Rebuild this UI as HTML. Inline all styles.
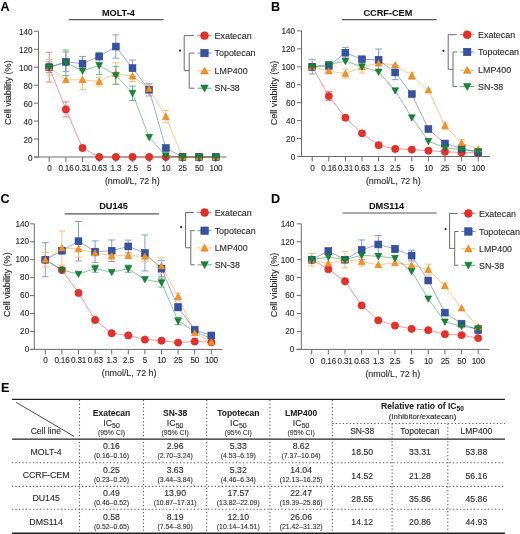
<!DOCTYPE html>
<html><head><meta charset="utf-8"><style>
html,body{margin:0;padding:0;background:#fff;}
body{width:520px;height:534px;overflow:hidden;}
svg{display:block;font-family:"Liberation Sans", sans-serif;will-change:transform;}
</style></head><body>
<svg width="520" height="534" viewBox="0 0 520 534">
<rect width="520" height="534" fill="#fff"/>
<line x1="38.50" y1="31.28" x2="38.50" y2="157.00" stroke="#6a6a6a" stroke-width="1" />
<line x1="34.00" y1="157.00" x2="38.50" y2="157.00" stroke="#6a6a6a" stroke-width="1" />
<text x="32.60" y="160.50" font-size="8.2" text-anchor="end" font-weight="normal" fill="#2a2a2a" stroke="#2a2a2a" stroke-width="0.12" >0</text>
<line x1="34.00" y1="139.04" x2="38.50" y2="139.04" stroke="#6a6a6a" stroke-width="1" />
<text x="32.60" y="142.54" font-size="8.2" text-anchor="end" font-weight="normal" fill="#2a2a2a" stroke="#2a2a2a" stroke-width="0.12" >20</text>
<line x1="34.00" y1="121.08" x2="38.50" y2="121.08" stroke="#6a6a6a" stroke-width="1" />
<text x="32.60" y="124.58" font-size="8.2" text-anchor="end" font-weight="normal" fill="#2a2a2a" stroke="#2a2a2a" stroke-width="0.12" >40</text>
<line x1="34.00" y1="103.12" x2="38.50" y2="103.12" stroke="#6a6a6a" stroke-width="1" />
<text x="32.60" y="106.62" font-size="8.2" text-anchor="end" font-weight="normal" fill="#2a2a2a" stroke="#2a2a2a" stroke-width="0.12" >60</text>
<line x1="34.00" y1="85.16" x2="38.50" y2="85.16" stroke="#6a6a6a" stroke-width="1" />
<text x="32.60" y="88.66" font-size="8.2" text-anchor="end" font-weight="normal" fill="#2a2a2a" stroke="#2a2a2a" stroke-width="0.12" >80</text>
<line x1="34.00" y1="67.20" x2="38.50" y2="67.20" stroke="#6a6a6a" stroke-width="1" />
<text x="32.60" y="70.70" font-size="8.2" text-anchor="end" font-weight="normal" fill="#2a2a2a" stroke="#2a2a2a" stroke-width="0.12" >100</text>
<line x1="34.00" y1="49.24" x2="38.50" y2="49.24" stroke="#6a6a6a" stroke-width="1" />
<text x="32.60" y="52.74" font-size="8.2" text-anchor="end" font-weight="normal" fill="#2a2a2a" stroke="#2a2a2a" stroke-width="0.12" >120</text>
<line x1="34.00" y1="31.28" x2="38.50" y2="31.28" stroke="#6a6a6a" stroke-width="1" />
<text x="32.60" y="34.78" font-size="8.2" text-anchor="end" font-weight="normal" fill="#2a2a2a" stroke="#2a2a2a" stroke-width="0.12" >140</text>
<line x1="34.30" y1="157.00" x2="226.50" y2="157.00" stroke="#6a6a6a" stroke-width="1" />
<line x1="49.20" y1="157.00" x2="49.20" y2="162.00" stroke="#6a6a6a" stroke-width="1" />
<text x="49.30" y="171.00" font-size="8.2" text-anchor="middle" font-weight="normal" fill="#2a2a2a" stroke="#2a2a2a" stroke-width="0.12" letter-spacing="-0.22">0</text>
<line x1="65.86" y1="157.00" x2="65.86" y2="162.00" stroke="#6a6a6a" stroke-width="1" />
<text x="65.96" y="171.00" font-size="8.2" text-anchor="middle" font-weight="normal" fill="#2a2a2a" stroke="#2a2a2a" stroke-width="0.12" letter-spacing="-0.22">0.16</text>
<line x1="82.52" y1="157.00" x2="82.52" y2="162.00" stroke="#6a6a6a" stroke-width="1" />
<text x="82.62" y="171.00" font-size="8.2" text-anchor="middle" font-weight="normal" fill="#2a2a2a" stroke="#2a2a2a" stroke-width="0.12" letter-spacing="-0.22">0.31</text>
<line x1="99.18" y1="157.00" x2="99.18" y2="162.00" stroke="#6a6a6a" stroke-width="1" />
<text x="99.28" y="171.00" font-size="8.2" text-anchor="middle" font-weight="normal" fill="#2a2a2a" stroke="#2a2a2a" stroke-width="0.12" letter-spacing="-0.22">0.63</text>
<line x1="115.84" y1="157.00" x2="115.84" y2="162.00" stroke="#6a6a6a" stroke-width="1" />
<text x="115.94" y="171.00" font-size="8.2" text-anchor="middle" font-weight="normal" fill="#2a2a2a" stroke="#2a2a2a" stroke-width="0.12" letter-spacing="-0.22">1.3</text>
<line x1="132.50" y1="157.00" x2="132.50" y2="162.00" stroke="#6a6a6a" stroke-width="1" />
<text x="132.60" y="171.00" font-size="8.2" text-anchor="middle" font-weight="normal" fill="#2a2a2a" stroke="#2a2a2a" stroke-width="0.12" letter-spacing="-0.22">2.5</text>
<line x1="149.16" y1="157.00" x2="149.16" y2="162.00" stroke="#6a6a6a" stroke-width="1" />
<text x="149.26" y="171.00" font-size="8.2" text-anchor="middle" font-weight="normal" fill="#2a2a2a" stroke="#2a2a2a" stroke-width="0.12" letter-spacing="-0.22">5</text>
<line x1="165.82" y1="157.00" x2="165.82" y2="162.00" stroke="#6a6a6a" stroke-width="1" />
<text x="165.92" y="171.00" font-size="8.2" text-anchor="middle" font-weight="normal" fill="#2a2a2a" stroke="#2a2a2a" stroke-width="0.12" letter-spacing="-0.22">10</text>
<line x1="182.48" y1="157.00" x2="182.48" y2="162.00" stroke="#6a6a6a" stroke-width="1" />
<text x="182.58" y="171.00" font-size="8.2" text-anchor="middle" font-weight="normal" fill="#2a2a2a" stroke="#2a2a2a" stroke-width="0.12" letter-spacing="-0.22">25</text>
<line x1="199.14" y1="157.00" x2="199.14" y2="162.00" stroke="#6a6a6a" stroke-width="1" />
<text x="199.24" y="171.00" font-size="8.2" text-anchor="middle" font-weight="normal" fill="#2a2a2a" stroke="#2a2a2a" stroke-width="0.12" letter-spacing="-0.22">50</text>
<line x1="215.80" y1="157.00" x2="215.80" y2="162.00" stroke="#6a6a6a" stroke-width="1" />
<text x="215.90" y="171.00" font-size="8.2" text-anchor="middle" font-weight="normal" fill="#2a2a2a" stroke="#2a2a2a" stroke-width="0.12" letter-spacing="-0.22">100</text>
<text x="132.30" y="184.00" font-size="8.9" text-anchor="middle" font-weight="normal" fill="#2a2a2a" stroke="#2a2a2a" stroke-width="0.12" >(nmol/L, 72 h)</text>
<text x="0" y="0" font-size="9.1" text-anchor="middle" fill="#2a2a2a" stroke="#2a2a2a" stroke-width="0.12" transform="translate(11.20,92.60) rotate(-90)">Cell viability (%)</text>
<text x="118.40" y="15.50" font-size="9.2" text-anchor="middle" font-weight="bold" fill="#111" stroke="#111" stroke-width="0.06" >MOLT-4</text>
<line x1="68.70" y1="19.60" x2="163.50" y2="19.60" stroke="#555" stroke-width="1.1" />
<text x="0.60" y="11.10" font-size="12.6" text-anchor="start" font-weight="bold" fill="#000" stroke="#000" stroke-width="0.06" >A</text>
<polyline points="49.20,67.20 65.86,109.41 82.52,148.02 99.18,157.00 115.84,157.00 132.50,157.00 149.16,157.00 165.82,157.00 182.48,157.00 199.14,157.00 215.80,157.00" fill="none" stroke="#e8302a" stroke-width="0.8" opacity="0.62"/>
<polyline points="49.20,67.20 65.86,61.81 82.52,63.61 99.18,56.42 115.84,46.55 132.50,68.10 149.16,89.65 165.82,148.02 182.48,157.00 199.14,157.00 215.80,157.00" fill="none" stroke="#3652a3" stroke-width="0.8" opacity="0.62"/>
<polyline points="49.20,67.20 65.86,79.77 82.52,79.77 99.18,81.57 115.84,73.49 132.50,76.18 149.16,88.75 165.82,116.59 182.48,157.00 199.14,157.00 215.80,157.00" fill="none" stroke="#f39325" stroke-width="0.8" opacity="0.62"/>
<polyline points="49.20,67.20 65.86,62.71 82.52,70.79 99.18,65.40 115.84,75.28 132.50,93.24 149.16,137.24 165.82,155.65 182.48,157.00 199.14,157.00 215.80,157.00" fill="none" stroke="#168439" stroke-width="0.8" opacity="0.62"/>
<line x1="49.20" y1="52.29" x2="49.20" y2="82.11" stroke="#ec7a6e" stroke-width="0.9" />
<line x1="45.80" y1="52.29" x2="52.60" y2="52.29" stroke="#ec7a6e" stroke-width="0.9" />
<line x1="45.80" y1="82.11" x2="52.60" y2="82.11" stroke="#ec7a6e" stroke-width="0.9" />
<line x1="65.86" y1="101.86" x2="65.86" y2="116.95" stroke="#ec7a6e" stroke-width="0.9" />
<line x1="62.46" y1="101.86" x2="69.26" y2="101.86" stroke="#ec7a6e" stroke-width="0.9" />
<line x1="62.46" y1="116.95" x2="69.26" y2="116.95" stroke="#ec7a6e" stroke-width="0.9" />
<line x1="49.20" y1="61.81" x2="49.20" y2="72.59" stroke="#7d8fc8" stroke-width="0.9" />
<line x1="45.80" y1="61.81" x2="52.60" y2="61.81" stroke="#7d8fc8" stroke-width="0.9" />
<line x1="45.80" y1="72.59" x2="52.60" y2="72.59" stroke="#7d8fc8" stroke-width="0.9" />
<line x1="65.86" y1="52.02" x2="65.86" y2="71.60" stroke="#7d8fc8" stroke-width="0.9" />
<line x1="62.46" y1="52.02" x2="69.26" y2="52.02" stroke="#7d8fc8" stroke-width="0.9" />
<line x1="62.46" y1="71.60" x2="69.26" y2="71.60" stroke="#7d8fc8" stroke-width="0.9" />
<line x1="82.52" y1="56.42" x2="82.52" y2="70.79" stroke="#7d8fc8" stroke-width="0.9" />
<line x1="79.12" y1="56.42" x2="85.92" y2="56.42" stroke="#7d8fc8" stroke-width="0.9" />
<line x1="79.12" y1="70.79" x2="85.92" y2="70.79" stroke="#7d8fc8" stroke-width="0.9" />
<line x1="99.18" y1="52.83" x2="99.18" y2="60.02" stroke="#7d8fc8" stroke-width="0.9" />
<line x1="95.78" y1="52.83" x2="102.58" y2="52.83" stroke="#7d8fc8" stroke-width="0.9" />
<line x1="95.78" y1="60.02" x2="102.58" y2="60.02" stroke="#7d8fc8" stroke-width="0.9" />
<line x1="115.84" y1="34.87" x2="115.84" y2="58.22" stroke="#7d8fc8" stroke-width="0.9" />
<line x1="112.44" y1="34.87" x2="119.24" y2="34.87" stroke="#7d8fc8" stroke-width="0.9" />
<line x1="112.44" y1="58.22" x2="119.24" y2="58.22" stroke="#7d8fc8" stroke-width="0.9" />
<line x1="132.50" y1="60.02" x2="132.50" y2="76.18" stroke="#7d8fc8" stroke-width="0.9" />
<line x1="129.10" y1="60.02" x2="135.90" y2="60.02" stroke="#7d8fc8" stroke-width="0.9" />
<line x1="129.10" y1="76.18" x2="135.90" y2="76.18" stroke="#7d8fc8" stroke-width="0.9" />
<line x1="149.16" y1="83.36" x2="149.16" y2="95.94" stroke="#7d8fc8" stroke-width="0.9" />
<line x1="145.76" y1="83.36" x2="152.56" y2="83.36" stroke="#7d8fc8" stroke-width="0.9" />
<line x1="145.76" y1="95.94" x2="152.56" y2="95.94" stroke="#7d8fc8" stroke-width="0.9" />
<line x1="49.20" y1="59.48" x2="49.20" y2="74.92" stroke="#f5b86e" stroke-width="0.9" />
<line x1="45.80" y1="59.48" x2="52.60" y2="59.48" stroke="#f5b86e" stroke-width="0.9" />
<line x1="45.80" y1="74.92" x2="52.60" y2="74.92" stroke="#f5b86e" stroke-width="0.9" />
<line x1="82.52" y1="69.89" x2="82.52" y2="89.65" stroke="#f5b86e" stroke-width="0.9" />
<line x1="79.12" y1="69.89" x2="85.92" y2="69.89" stroke="#f5b86e" stroke-width="0.9" />
<line x1="79.12" y1="89.65" x2="85.92" y2="89.65" stroke="#f5b86e" stroke-width="0.9" />
<line x1="99.18" y1="77.08" x2="99.18" y2="86.06" stroke="#f5b86e" stroke-width="0.9" />
<line x1="95.78" y1="77.08" x2="102.58" y2="77.08" stroke="#f5b86e" stroke-width="0.9" />
<line x1="95.78" y1="86.06" x2="102.58" y2="86.06" stroke="#f5b86e" stroke-width="0.9" />
<line x1="115.84" y1="62.71" x2="115.84" y2="84.26" stroke="#f5b86e" stroke-width="0.9" />
<line x1="112.44" y1="62.71" x2="119.24" y2="62.71" stroke="#f5b86e" stroke-width="0.9" />
<line x1="112.44" y1="84.26" x2="119.24" y2="84.26" stroke="#f5b86e" stroke-width="0.9" />
<line x1="132.50" y1="70.79" x2="132.50" y2="81.57" stroke="#f5b86e" stroke-width="0.9" />
<line x1="129.10" y1="70.79" x2="135.90" y2="70.79" stroke="#f5b86e" stroke-width="0.9" />
<line x1="129.10" y1="81.57" x2="135.90" y2="81.57" stroke="#f5b86e" stroke-width="0.9" />
<line x1="149.16" y1="84.26" x2="149.16" y2="93.24" stroke="#f5b86e" stroke-width="0.9" />
<line x1="145.76" y1="84.26" x2="152.56" y2="84.26" stroke="#f5b86e" stroke-width="0.9" />
<line x1="145.76" y1="93.24" x2="152.56" y2="93.24" stroke="#f5b86e" stroke-width="0.9" />
<line x1="165.82" y1="110.30" x2="165.82" y2="122.88" stroke="#f5b86e" stroke-width="0.9" />
<line x1="162.42" y1="110.30" x2="169.22" y2="110.30" stroke="#f5b86e" stroke-width="0.9" />
<line x1="162.42" y1="122.88" x2="169.22" y2="122.88" stroke="#f5b86e" stroke-width="0.9" />
<line x1="65.86" y1="49.96" x2="65.86" y2="75.46" stroke="#5fae7a" stroke-width="0.9" />
<line x1="62.46" y1="49.96" x2="69.26" y2="49.96" stroke="#5fae7a" stroke-width="0.9" />
<line x1="62.46" y1="75.46" x2="69.26" y2="75.46" stroke="#5fae7a" stroke-width="0.9" />
<line x1="99.18" y1="56.42" x2="99.18" y2="74.38" stroke="#5fae7a" stroke-width="0.9" />
<line x1="95.78" y1="56.42" x2="102.58" y2="56.42" stroke="#5fae7a" stroke-width="0.9" />
<line x1="95.78" y1="74.38" x2="102.58" y2="74.38" stroke="#5fae7a" stroke-width="0.9" />
<line x1="115.84" y1="66.30" x2="115.84" y2="84.26" stroke="#5fae7a" stroke-width="0.9" />
<line x1="112.44" y1="66.30" x2="119.24" y2="66.30" stroke="#5fae7a" stroke-width="0.9" />
<line x1="112.44" y1="84.26" x2="119.24" y2="84.26" stroke="#5fae7a" stroke-width="0.9" />
<line x1="132.50" y1="86.06" x2="132.50" y2="100.43" stroke="#5fae7a" stroke-width="0.9" />
<line x1="129.10" y1="86.06" x2="135.90" y2="86.06" stroke="#5fae7a" stroke-width="0.9" />
<line x1="129.10" y1="100.43" x2="135.90" y2="100.43" stroke="#5fae7a" stroke-width="0.9" />
<circle cx="49.20" cy="67.20" r="3.65" fill="#e8302a" stroke="#c42420" stroke-width="0.55"/>
<circle cx="65.86" cy="109.41" r="3.65" fill="#e8302a" stroke="#c42420" stroke-width="0.55"/>
<circle cx="82.52" cy="148.02" r="3.65" fill="#e8302a" stroke="#c42420" stroke-width="0.55"/>
<circle cx="99.18" cy="157.00" r="3.65" fill="#e8302a" stroke="#c42420" stroke-width="0.55"/>
<circle cx="115.84" cy="157.00" r="3.65" fill="#e8302a" stroke="#c42420" stroke-width="0.55"/>
<circle cx="132.50" cy="157.00" r="3.65" fill="#e8302a" stroke="#c42420" stroke-width="0.55"/>
<circle cx="149.16" cy="157.00" r="3.65" fill="#e8302a" stroke="#c42420" stroke-width="0.55"/>
<circle cx="165.82" cy="157.00" r="3.65" fill="#e8302a" stroke="#c42420" stroke-width="0.55"/>
<circle cx="182.48" cy="157.00" r="3.65" fill="#e8302a" stroke="#c42420" stroke-width="0.55"/>
<circle cx="199.14" cy="157.00" r="3.65" fill="#e8302a" stroke="#c42420" stroke-width="0.55"/>
<circle cx="215.80" cy="157.00" r="3.65" fill="#e8302a" stroke="#c42420" stroke-width="0.55"/>
<rect x="45.75" y="63.75" width="6.90" height="6.90" fill="#3652a3" stroke="#2a4288" stroke-width="0.55"/>
<rect x="62.41" y="58.36" width="6.90" height="6.90" fill="#3652a3" stroke="#2a4288" stroke-width="0.55"/>
<rect x="79.07" y="60.16" width="6.90" height="6.90" fill="#3652a3" stroke="#2a4288" stroke-width="0.55"/>
<rect x="95.73" y="52.97" width="6.90" height="6.90" fill="#3652a3" stroke="#2a4288" stroke-width="0.55"/>
<rect x="112.39" y="43.10" width="6.90" height="6.90" fill="#3652a3" stroke="#2a4288" stroke-width="0.55"/>
<rect x="129.05" y="64.65" width="6.90" height="6.90" fill="#3652a3" stroke="#2a4288" stroke-width="0.55"/>
<rect x="145.71" y="86.20" width="6.90" height="6.90" fill="#3652a3" stroke="#2a4288" stroke-width="0.55"/>
<rect x="162.37" y="144.57" width="6.90" height="6.90" fill="#3652a3" stroke="#2a4288" stroke-width="0.55"/>
<rect x="179.03" y="153.55" width="6.90" height="6.90" fill="#3652a3" stroke="#2a4288" stroke-width="0.55"/>
<rect x="195.69" y="153.55" width="6.90" height="6.90" fill="#3652a3" stroke="#2a4288" stroke-width="0.55"/>
<rect x="212.35" y="153.55" width="6.90" height="6.90" fill="#3652a3" stroke="#2a4288" stroke-width="0.55"/>
<polygon points="45.75,70.10 52.65,70.10 49.20,63.70" fill="#f39325" stroke="#d97a14" stroke-width="0.55"/>
<polygon points="62.41,82.67 69.31,82.67 65.86,76.27" fill="#f39325" stroke="#d97a14" stroke-width="0.55"/>
<polygon points="79.07,82.67 85.97,82.67 82.52,76.27" fill="#f39325" stroke="#d97a14" stroke-width="0.55"/>
<polygon points="95.73,84.47 102.63,84.47 99.18,78.07" fill="#f39325" stroke="#d97a14" stroke-width="0.55"/>
<polygon points="112.39,76.39 119.29,76.39 115.84,69.99" fill="#f39325" stroke="#d97a14" stroke-width="0.55"/>
<polygon points="129.05,79.08 135.95,79.08 132.50,72.68" fill="#f39325" stroke="#d97a14" stroke-width="0.55"/>
<polygon points="145.71,91.65 152.61,91.65 149.16,85.25" fill="#f39325" stroke="#d97a14" stroke-width="0.55"/>
<polygon points="162.37,119.49 169.27,119.49 165.82,113.09" fill="#f39325" stroke="#d97a14" stroke-width="0.55"/>
<polygon points="179.03,159.90 185.93,159.90 182.48,153.50" fill="#f39325" stroke="#d97a14" stroke-width="0.55"/>
<polygon points="195.69,159.90 202.59,159.90 199.14,153.50" fill="#f39325" stroke="#d97a14" stroke-width="0.55"/>
<polygon points="212.35,159.90 219.25,159.90 215.80,153.50" fill="#f39325" stroke="#d97a14" stroke-width="0.55"/>
<polygon points="45.75,64.30 52.65,64.30 49.20,70.70" fill="#168439" stroke="#0f6a2c" stroke-width="0.55"/>
<polygon points="62.41,59.81 69.31,59.81 65.86,66.21" fill="#168439" stroke="#0f6a2c" stroke-width="0.55"/>
<polygon points="79.07,67.89 85.97,67.89 82.52,74.29" fill="#168439" stroke="#0f6a2c" stroke-width="0.55"/>
<polygon points="95.73,62.50 102.63,62.50 99.18,68.90" fill="#168439" stroke="#0f6a2c" stroke-width="0.55"/>
<polygon points="112.39,72.38 119.29,72.38 115.84,78.78" fill="#168439" stroke="#0f6a2c" stroke-width="0.55"/>
<polygon points="129.05,90.34 135.95,90.34 132.50,96.74" fill="#168439" stroke="#0f6a2c" stroke-width="0.55"/>
<polygon points="145.71,134.34 152.61,134.34 149.16,140.74" fill="#168439" stroke="#0f6a2c" stroke-width="0.55"/>
<polygon points="162.37,152.75 169.27,152.75 165.82,159.15" fill="#168439" stroke="#0f6a2c" stroke-width="0.55"/>
<polygon points="179.03,154.10 185.93,154.10 182.48,160.50" fill="#168439" stroke="#0f6a2c" stroke-width="0.55"/>
<polygon points="195.69,154.10 202.59,154.10 199.14,160.50" fill="#168439" stroke="#0f6a2c" stroke-width="0.55"/>
<polygon points="212.35,154.10 219.25,154.10 215.80,160.50" fill="#168439" stroke="#0f6a2c" stroke-width="0.55"/>
<line x1="197.30" y1="35.60" x2="211.50" y2="35.60" stroke="#ec7a6e" stroke-width="1" />
<circle cx="204.50" cy="35.60" r="3.94" fill="#e8302a" stroke="#c42420" stroke-width="0.55"/>
<text x="214.60" y="38.80" font-size="8.9" text-anchor="start" font-weight="normal" fill="#2a2a2a" stroke="#2a2a2a" stroke-width="0.12" >Exatecan</text>
<line x1="197.30" y1="53.10" x2="211.50" y2="53.10" stroke="#7d8fc8" stroke-width="1" />
<rect x="200.77" y="49.37" width="7.45" height="7.45" fill="#3652a3" stroke="#2a4288" stroke-width="0.55"/>
<text x="214.60" y="56.30" font-size="8.9" text-anchor="start" font-weight="normal" fill="#2a2a2a" stroke="#2a2a2a" stroke-width="0.12" >Topotecan</text>
<line x1="197.30" y1="70.80" x2="211.50" y2="70.80" stroke="#f5b86e" stroke-width="1" />
<polygon points="200.77,73.93 208.23,73.93 204.50,67.02" fill="#f39325" stroke="#d97a14" stroke-width="0.55"/>
<text x="214.60" y="74.00" font-size="8.9" text-anchor="start" font-weight="normal" fill="#2a2a2a" stroke="#2a2a2a" stroke-width="0.12" >LMP400</text>
<line x1="197.30" y1="88.20" x2="211.50" y2="88.20" stroke="#5fae7a" stroke-width="1" />
<polygon points="200.77,85.07 208.23,85.07 204.50,91.98" fill="#168439" stroke="#0f6a2c" stroke-width="0.55"/>
<text x="214.60" y="91.40" font-size="8.9" text-anchor="start" font-weight="normal" fill="#2a2a2a" stroke="#2a2a2a" stroke-width="0.12" >SN-38</text>
<polyline points="194.00,35.60 184.20,35.60 184.20,70.65 189.20,70.65" fill="none" stroke="#6a6a6a" stroke-width="1"/>
<polyline points="194.50,53.10 189.20,53.10 189.20,88.20 194.50,88.20" fill="none" stroke="#6a6a6a" stroke-width="1"/>
<circle cx="180.00" cy="50.60" r="1.1" fill="#222"/>
<line x1="301.50" y1="30.92" x2="301.50" y2="156.50" stroke="#6a6a6a" stroke-width="1" />
<line x1="297.00" y1="156.50" x2="301.50" y2="156.50" stroke="#6a6a6a" stroke-width="1" />
<text x="295.20" y="159.75" font-size="8.2" text-anchor="end" font-weight="normal" fill="#2a2a2a" stroke="#2a2a2a" stroke-width="0.12" >0</text>
<line x1="297.00" y1="138.56" x2="301.50" y2="138.56" stroke="#6a6a6a" stroke-width="1" />
<text x="295.20" y="141.81" font-size="8.2" text-anchor="end" font-weight="normal" fill="#2a2a2a" stroke="#2a2a2a" stroke-width="0.12" >20</text>
<line x1="297.00" y1="120.62" x2="301.50" y2="120.62" stroke="#6a6a6a" stroke-width="1" />
<text x="295.20" y="123.87" font-size="8.2" text-anchor="end" font-weight="normal" fill="#2a2a2a" stroke="#2a2a2a" stroke-width="0.12" >40</text>
<line x1="297.00" y1="102.68" x2="301.50" y2="102.68" stroke="#6a6a6a" stroke-width="1" />
<text x="295.20" y="105.93" font-size="8.2" text-anchor="end" font-weight="normal" fill="#2a2a2a" stroke="#2a2a2a" stroke-width="0.12" >60</text>
<line x1="297.00" y1="84.74" x2="301.50" y2="84.74" stroke="#6a6a6a" stroke-width="1" />
<text x="295.20" y="87.99" font-size="8.2" text-anchor="end" font-weight="normal" fill="#2a2a2a" stroke="#2a2a2a" stroke-width="0.12" >80</text>
<line x1="297.00" y1="66.80" x2="301.50" y2="66.80" stroke="#6a6a6a" stroke-width="1" />
<text x="295.20" y="70.05" font-size="8.2" text-anchor="end" font-weight="normal" fill="#2a2a2a" stroke="#2a2a2a" stroke-width="0.12" >100</text>
<line x1="297.00" y1="48.86" x2="301.50" y2="48.86" stroke="#6a6a6a" stroke-width="1" />
<text x="295.20" y="52.11" font-size="8.2" text-anchor="end" font-weight="normal" fill="#2a2a2a" stroke="#2a2a2a" stroke-width="0.12" >120</text>
<line x1="297.00" y1="30.92" x2="301.50" y2="30.92" stroke="#6a6a6a" stroke-width="1" />
<text x="295.20" y="34.17" font-size="8.2" text-anchor="end" font-weight="normal" fill="#2a2a2a" stroke="#2a2a2a" stroke-width="0.12" >140</text>
<line x1="297.00" y1="156.50" x2="490.00" y2="156.50" stroke="#6a6a6a" stroke-width="1" />
<line x1="312.20" y1="156.50" x2="312.20" y2="161.50" stroke="#6a6a6a" stroke-width="1" />
<text x="312.30" y="170.50" font-size="8.2" text-anchor="middle" font-weight="normal" fill="#2a2a2a" stroke="#2a2a2a" stroke-width="0.12" letter-spacing="-0.22">0</text>
<line x1="328.80" y1="156.50" x2="328.80" y2="161.50" stroke="#6a6a6a" stroke-width="1" />
<text x="328.90" y="170.50" font-size="8.2" text-anchor="middle" font-weight="normal" fill="#2a2a2a" stroke="#2a2a2a" stroke-width="0.12" letter-spacing="-0.22">0.16</text>
<line x1="345.40" y1="156.50" x2="345.40" y2="161.50" stroke="#6a6a6a" stroke-width="1" />
<text x="345.50" y="170.50" font-size="8.2" text-anchor="middle" font-weight="normal" fill="#2a2a2a" stroke="#2a2a2a" stroke-width="0.12" letter-spacing="-0.22">0.31</text>
<line x1="362.00" y1="156.50" x2="362.00" y2="161.50" stroke="#6a6a6a" stroke-width="1" />
<text x="362.10" y="170.50" font-size="8.2" text-anchor="middle" font-weight="normal" fill="#2a2a2a" stroke="#2a2a2a" stroke-width="0.12" letter-spacing="-0.22">0.63</text>
<line x1="378.60" y1="156.50" x2="378.60" y2="161.50" stroke="#6a6a6a" stroke-width="1" />
<text x="378.70" y="170.50" font-size="8.2" text-anchor="middle" font-weight="normal" fill="#2a2a2a" stroke="#2a2a2a" stroke-width="0.12" letter-spacing="-0.22">1.3</text>
<line x1="395.20" y1="156.50" x2="395.20" y2="161.50" stroke="#6a6a6a" stroke-width="1" />
<text x="395.30" y="170.50" font-size="8.2" text-anchor="middle" font-weight="normal" fill="#2a2a2a" stroke="#2a2a2a" stroke-width="0.12" letter-spacing="-0.22">2.5</text>
<line x1="411.80" y1="156.50" x2="411.80" y2="161.50" stroke="#6a6a6a" stroke-width="1" />
<text x="411.90" y="170.50" font-size="8.2" text-anchor="middle" font-weight="normal" fill="#2a2a2a" stroke="#2a2a2a" stroke-width="0.12" letter-spacing="-0.22">5</text>
<line x1="428.40" y1="156.50" x2="428.40" y2="161.50" stroke="#6a6a6a" stroke-width="1" />
<text x="428.50" y="170.50" font-size="8.2" text-anchor="middle" font-weight="normal" fill="#2a2a2a" stroke="#2a2a2a" stroke-width="0.12" letter-spacing="-0.22">10</text>
<line x1="445.00" y1="156.50" x2="445.00" y2="161.50" stroke="#6a6a6a" stroke-width="1" />
<text x="445.10" y="170.50" font-size="8.2" text-anchor="middle" font-weight="normal" fill="#2a2a2a" stroke="#2a2a2a" stroke-width="0.12" letter-spacing="-0.22">25</text>
<line x1="461.60" y1="156.50" x2="461.60" y2="161.50" stroke="#6a6a6a" stroke-width="1" />
<text x="461.70" y="170.50" font-size="8.2" text-anchor="middle" font-weight="normal" fill="#2a2a2a" stroke="#2a2a2a" stroke-width="0.12" letter-spacing="-0.22">50</text>
<line x1="478.20" y1="156.50" x2="478.20" y2="161.50" stroke="#6a6a6a" stroke-width="1" />
<text x="478.30" y="170.50" font-size="8.2" text-anchor="middle" font-weight="normal" fill="#2a2a2a" stroke="#2a2a2a" stroke-width="0.12" letter-spacing="-0.22">100</text>
<text x="393.30" y="183.60" font-size="8.9" text-anchor="middle" font-weight="normal" fill="#2a2a2a" stroke="#2a2a2a" stroke-width="0.12" >(nmol/L, 72 h)</text>
<text x="0" y="0" font-size="9.1" text-anchor="middle" fill="#2a2a2a" stroke="#2a2a2a" stroke-width="0.12" transform="translate(276.60,93.00) rotate(-90)">Cell viability (%)</text>
<text x="387.90" y="15.50" font-size="9.2" text-anchor="middle" font-weight="bold" fill="#111" stroke="#111" stroke-width="0.06" >CCRF-CEM</text>
<line x1="341.90" y1="19.60" x2="436.60" y2="19.60" stroke="#555" stroke-width="1.1" />
<text x="271.00" y="11.10" font-size="12.6" text-anchor="start" font-weight="bold" fill="#000" stroke="#000" stroke-width="0.06" >B</text>
<polyline points="312.20,66.80 328.80,96.04 345.40,117.66 362.00,133.36 378.60,145.20 395.20,148.88 411.80,149.59 428.40,150.67 445.00,151.75 461.60,152.46 478.20,152.91" fill="none" stroke="#e8302a" stroke-width="0.8" opacity="0.62"/>
<polyline points="312.20,66.80 328.80,65.90 345.40,52.72 362.00,59.27 378.60,59.80 395.20,72.45 411.80,94.07 428.40,129.14 445.00,143.49 461.60,148.43 478.20,152.28" fill="none" stroke="#3652a3" stroke-width="0.8" opacity="0.62"/>
<polyline points="312.20,66.80 328.80,71.02 345.40,73.71 362.00,66.80 378.60,63.21 395.20,65.01 411.80,75.77 428.40,90.12 445.00,125.55 461.60,143.04 478.20,149.14" fill="none" stroke="#f39325" stroke-width="0.8" opacity="0.62"/>
<polyline points="312.20,66.80 328.80,64.47 345.40,61.15 362.00,66.62 378.60,71.91 395.20,90.66 411.80,117.66 428.40,141.25 445.00,147.80 461.60,149.59 478.20,151.75" fill="none" stroke="#168439" stroke-width="0.8" opacity="0.62"/>
<line x1="328.80" y1="91.56" x2="328.80" y2="100.53" stroke="#ec7a6e" stroke-width="0.9" />
<line x1="325.40" y1="91.56" x2="332.20" y2="91.56" stroke="#ec7a6e" stroke-width="0.9" />
<line x1="325.40" y1="100.53" x2="332.20" y2="100.53" stroke="#ec7a6e" stroke-width="0.9" />
<line x1="312.20" y1="59.62" x2="312.20" y2="73.98" stroke="#7d8fc8" stroke-width="0.9" />
<line x1="308.80" y1="59.62" x2="315.60" y2="59.62" stroke="#7d8fc8" stroke-width="0.9" />
<line x1="308.80" y1="73.98" x2="315.60" y2="73.98" stroke="#7d8fc8" stroke-width="0.9" />
<line x1="345.40" y1="47.34" x2="345.40" y2="58.10" stroke="#7d8fc8" stroke-width="0.9" />
<line x1="342.00" y1="47.34" x2="348.80" y2="47.34" stroke="#7d8fc8" stroke-width="0.9" />
<line x1="342.00" y1="58.10" x2="348.80" y2="58.10" stroke="#7d8fc8" stroke-width="0.9" />
<line x1="378.60" y1="49.04" x2="378.60" y2="70.57" stroke="#7d8fc8" stroke-width="0.9" />
<line x1="375.20" y1="49.04" x2="382.00" y2="49.04" stroke="#7d8fc8" stroke-width="0.9" />
<line x1="375.20" y1="70.57" x2="382.00" y2="70.57" stroke="#7d8fc8" stroke-width="0.9" />
<line x1="395.20" y1="65.28" x2="395.20" y2="79.63" stroke="#7d8fc8" stroke-width="0.9" />
<line x1="391.80" y1="65.28" x2="398.60" y2="65.28" stroke="#7d8fc8" stroke-width="0.9" />
<line x1="391.80" y1="79.63" x2="398.60" y2="79.63" stroke="#7d8fc8" stroke-width="0.9" />
<line x1="345.40" y1="69.22" x2="345.40" y2="78.19" stroke="#f5b86e" stroke-width="0.9" />
<line x1="342.00" y1="69.22" x2="348.80" y2="69.22" stroke="#f5b86e" stroke-width="0.9" />
<line x1="342.00" y1="78.19" x2="348.80" y2="78.19" stroke="#f5b86e" stroke-width="0.9" />
<line x1="362.00" y1="60.52" x2="362.00" y2="73.08" stroke="#f5b86e" stroke-width="0.9" />
<line x1="358.60" y1="60.52" x2="365.40" y2="60.52" stroke="#f5b86e" stroke-width="0.9" />
<line x1="358.60" y1="73.08" x2="365.40" y2="73.08" stroke="#f5b86e" stroke-width="0.9" />
<line x1="411.80" y1="72.18" x2="411.80" y2="79.36" stroke="#f5b86e" stroke-width="0.9" />
<line x1="408.40" y1="72.18" x2="415.20" y2="72.18" stroke="#f5b86e" stroke-width="0.9" />
<line x1="408.40" y1="79.36" x2="415.20" y2="79.36" stroke="#f5b86e" stroke-width="0.9" />
<line x1="445.00" y1="121.97" x2="445.00" y2="129.14" stroke="#f5b86e" stroke-width="0.9" />
<line x1="441.60" y1="121.97" x2="448.40" y2="121.97" stroke="#f5b86e" stroke-width="0.9" />
<line x1="441.60" y1="129.14" x2="448.40" y2="129.14" stroke="#f5b86e" stroke-width="0.9" />
<line x1="461.60" y1="139.46" x2="461.60" y2="146.63" stroke="#f5b86e" stroke-width="0.9" />
<line x1="458.20" y1="139.46" x2="465.00" y2="139.46" stroke="#f5b86e" stroke-width="0.9" />
<line x1="458.20" y1="146.63" x2="465.00" y2="146.63" stroke="#f5b86e" stroke-width="0.9" />
<circle cx="312.20" cy="66.80" r="3.65" fill="#e8302a" stroke="#c42420" stroke-width="0.55"/>
<circle cx="328.80" cy="96.04" r="3.65" fill="#e8302a" stroke="#c42420" stroke-width="0.55"/>
<circle cx="345.40" cy="117.66" r="3.65" fill="#e8302a" stroke="#c42420" stroke-width="0.55"/>
<circle cx="362.00" cy="133.36" r="3.65" fill="#e8302a" stroke="#c42420" stroke-width="0.55"/>
<circle cx="378.60" cy="145.20" r="3.65" fill="#e8302a" stroke="#c42420" stroke-width="0.55"/>
<circle cx="395.20" cy="148.88" r="3.65" fill="#e8302a" stroke="#c42420" stroke-width="0.55"/>
<circle cx="411.80" cy="149.59" r="3.65" fill="#e8302a" stroke="#c42420" stroke-width="0.55"/>
<circle cx="428.40" cy="150.67" r="3.65" fill="#e8302a" stroke="#c42420" stroke-width="0.55"/>
<circle cx="445.00" cy="151.75" r="3.65" fill="#e8302a" stroke="#c42420" stroke-width="0.55"/>
<circle cx="461.60" cy="152.46" r="3.65" fill="#e8302a" stroke="#c42420" stroke-width="0.55"/>
<circle cx="478.20" cy="152.91" r="3.65" fill="#e8302a" stroke="#c42420" stroke-width="0.55"/>
<rect x="308.75" y="63.35" width="6.90" height="6.90" fill="#3652a3" stroke="#2a4288" stroke-width="0.55"/>
<rect x="325.35" y="62.45" width="6.90" height="6.90" fill="#3652a3" stroke="#2a4288" stroke-width="0.55"/>
<rect x="341.95" y="49.27" width="6.90" height="6.90" fill="#3652a3" stroke="#2a4288" stroke-width="0.55"/>
<rect x="358.55" y="55.82" width="6.90" height="6.90" fill="#3652a3" stroke="#2a4288" stroke-width="0.55"/>
<rect x="375.15" y="56.35" width="6.90" height="6.90" fill="#3652a3" stroke="#2a4288" stroke-width="0.55"/>
<rect x="391.75" y="69.00" width="6.90" height="6.90" fill="#3652a3" stroke="#2a4288" stroke-width="0.55"/>
<rect x="408.35" y="90.62" width="6.90" height="6.90" fill="#3652a3" stroke="#2a4288" stroke-width="0.55"/>
<rect x="424.95" y="125.69" width="6.90" height="6.90" fill="#3652a3" stroke="#2a4288" stroke-width="0.55"/>
<rect x="441.55" y="140.04" width="6.90" height="6.90" fill="#3652a3" stroke="#2a4288" stroke-width="0.55"/>
<rect x="458.15" y="144.98" width="6.90" height="6.90" fill="#3652a3" stroke="#2a4288" stroke-width="0.55"/>
<rect x="474.75" y="148.83" width="6.90" height="6.90" fill="#3652a3" stroke="#2a4288" stroke-width="0.55"/>
<polygon points="308.75,69.70 315.65,69.70 312.20,63.30" fill="#f39325" stroke="#d97a14" stroke-width="0.55"/>
<polygon points="325.35,73.92 332.25,73.92 328.80,67.52" fill="#f39325" stroke="#d97a14" stroke-width="0.55"/>
<polygon points="341.95,76.61 348.85,76.61 345.40,70.21" fill="#f39325" stroke="#d97a14" stroke-width="0.55"/>
<polygon points="358.55,69.70 365.45,69.70 362.00,63.30" fill="#f39325" stroke="#d97a14" stroke-width="0.55"/>
<polygon points="375.15,66.11 382.05,66.11 378.60,59.71" fill="#f39325" stroke="#d97a14" stroke-width="0.55"/>
<polygon points="391.75,67.91 398.65,67.91 395.20,61.51" fill="#f39325" stroke="#d97a14" stroke-width="0.55"/>
<polygon points="408.35,78.67 415.25,78.67 411.80,72.27" fill="#f39325" stroke="#d97a14" stroke-width="0.55"/>
<polygon points="424.95,93.02 431.85,93.02 428.40,86.62" fill="#f39325" stroke="#d97a14" stroke-width="0.55"/>
<polygon points="441.55,128.45 448.45,128.45 445.00,122.05" fill="#f39325" stroke="#d97a14" stroke-width="0.55"/>
<polygon points="458.15,145.94 465.05,145.94 461.60,139.54" fill="#f39325" stroke="#d97a14" stroke-width="0.55"/>
<polygon points="474.75,152.04 481.65,152.04 478.20,145.64" fill="#f39325" stroke="#d97a14" stroke-width="0.55"/>
<polygon points="308.75,63.90 315.65,63.90 312.20,70.30" fill="#168439" stroke="#0f6a2c" stroke-width="0.55"/>
<polygon points="325.35,61.57 332.25,61.57 328.80,67.97" fill="#168439" stroke="#0f6a2c" stroke-width="0.55"/>
<polygon points="341.95,58.25 348.85,58.25 345.40,64.65" fill="#168439" stroke="#0f6a2c" stroke-width="0.55"/>
<polygon points="358.55,63.72 365.45,63.72 362.00,70.12" fill="#168439" stroke="#0f6a2c" stroke-width="0.55"/>
<polygon points="375.15,69.01 382.05,69.01 378.60,75.41" fill="#168439" stroke="#0f6a2c" stroke-width="0.55"/>
<polygon points="391.75,87.76 398.65,87.76 395.20,94.16" fill="#168439" stroke="#0f6a2c" stroke-width="0.55"/>
<polygon points="408.35,114.76 415.25,114.76 411.80,121.16" fill="#168439" stroke="#0f6a2c" stroke-width="0.55"/>
<polygon points="424.95,138.35 431.85,138.35 428.40,144.75" fill="#168439" stroke="#0f6a2c" stroke-width="0.55"/>
<polygon points="441.55,144.90 448.45,144.90 445.00,151.30" fill="#168439" stroke="#0f6a2c" stroke-width="0.55"/>
<polygon points="458.15,146.69 465.05,146.69 461.60,153.09" fill="#168439" stroke="#0f6a2c" stroke-width="0.55"/>
<polygon points="474.75,148.85 481.65,148.85 478.20,155.25" fill="#168439" stroke="#0f6a2c" stroke-width="0.55"/>
<line x1="460.00" y1="34.70" x2="474.20" y2="34.70" stroke="#ec7a6e" stroke-width="1" />
<circle cx="467.20" cy="34.70" r="3.94" fill="#e8302a" stroke="#c42420" stroke-width="0.55"/>
<text x="478.10" y="37.90" font-size="8.9" text-anchor="start" font-weight="normal" fill="#2a2a2a" stroke="#2a2a2a" stroke-width="0.12" >Exatecan</text>
<line x1="460.00" y1="52.00" x2="474.20" y2="52.00" stroke="#7d8fc8" stroke-width="1" />
<rect x="463.47" y="48.27" width="7.45" height="7.45" fill="#3652a3" stroke="#2a4288" stroke-width="0.55"/>
<text x="478.10" y="55.20" font-size="8.9" text-anchor="start" font-weight="normal" fill="#2a2a2a" stroke="#2a2a2a" stroke-width="0.12" >Topotecan</text>
<line x1="460.00" y1="70.20" x2="474.20" y2="70.20" stroke="#f5b86e" stroke-width="1" />
<polygon points="463.47,73.33 470.93,73.33 467.20,66.42" fill="#f39325" stroke="#d97a14" stroke-width="0.55"/>
<text x="478.10" y="73.40" font-size="8.9" text-anchor="start" font-weight="normal" fill="#2a2a2a" stroke="#2a2a2a" stroke-width="0.12" >LMP400</text>
<line x1="460.00" y1="86.60" x2="474.20" y2="86.60" stroke="#5fae7a" stroke-width="1" />
<polygon points="463.47,83.47 470.93,83.47 467.20,90.38" fill="#168439" stroke="#0f6a2c" stroke-width="0.55"/>
<text x="478.10" y="89.80" font-size="8.9" text-anchor="start" font-weight="normal" fill="#2a2a2a" stroke="#2a2a2a" stroke-width="0.12" >SN-38</text>
<polyline points="456.70,34.70 448.20,34.70 448.20,69.30 453.00,69.30" fill="none" stroke="#6a6a6a" stroke-width="1"/>
<polyline points="457.20,52.00 453.00,52.00 453.00,86.60 457.20,86.60" fill="none" stroke="#6a6a6a" stroke-width="1"/>
<circle cx="443.50" cy="50.80" r="1.1" fill="#222"/>
<line x1="34.30" y1="223.82" x2="34.30" y2="349.40" stroke="#6a6a6a" stroke-width="1" />
<line x1="29.80" y1="349.40" x2="34.30" y2="349.40" stroke="#6a6a6a" stroke-width="1" />
<text x="29.20" y="352.10" font-size="8.2" text-anchor="end" font-weight="normal" fill="#2a2a2a" stroke="#2a2a2a" stroke-width="0.12" >0</text>
<line x1="29.80" y1="331.46" x2="34.30" y2="331.46" stroke="#6a6a6a" stroke-width="1" />
<text x="29.20" y="334.16" font-size="8.2" text-anchor="end" font-weight="normal" fill="#2a2a2a" stroke="#2a2a2a" stroke-width="0.12" >20</text>
<line x1="29.80" y1="313.52" x2="34.30" y2="313.52" stroke="#6a6a6a" stroke-width="1" />
<text x="29.20" y="316.22" font-size="8.2" text-anchor="end" font-weight="normal" fill="#2a2a2a" stroke="#2a2a2a" stroke-width="0.12" >40</text>
<line x1="29.80" y1="295.58" x2="34.30" y2="295.58" stroke="#6a6a6a" stroke-width="1" />
<text x="29.20" y="298.28" font-size="8.2" text-anchor="end" font-weight="normal" fill="#2a2a2a" stroke="#2a2a2a" stroke-width="0.12" >60</text>
<line x1="29.80" y1="277.64" x2="34.30" y2="277.64" stroke="#6a6a6a" stroke-width="1" />
<text x="29.20" y="280.34" font-size="8.2" text-anchor="end" font-weight="normal" fill="#2a2a2a" stroke="#2a2a2a" stroke-width="0.12" >80</text>
<line x1="29.80" y1="259.70" x2="34.30" y2="259.70" stroke="#6a6a6a" stroke-width="1" />
<text x="29.20" y="262.40" font-size="8.2" text-anchor="end" font-weight="normal" fill="#2a2a2a" stroke="#2a2a2a" stroke-width="0.12" >100</text>
<line x1="29.80" y1="241.76" x2="34.30" y2="241.76" stroke="#6a6a6a" stroke-width="1" />
<text x="29.20" y="244.46" font-size="8.2" text-anchor="end" font-weight="normal" fill="#2a2a2a" stroke="#2a2a2a" stroke-width="0.12" >120</text>
<line x1="29.80" y1="223.82" x2="34.30" y2="223.82" stroke="#6a6a6a" stroke-width="1" />
<text x="29.20" y="226.52" font-size="8.2" text-anchor="end" font-weight="normal" fill="#2a2a2a" stroke="#2a2a2a" stroke-width="0.12" >140</text>
<line x1="30.20" y1="349.40" x2="222.70" y2="349.40" stroke="#6a6a6a" stroke-width="1" />
<line x1="45.30" y1="349.40" x2="45.30" y2="354.40" stroke="#6a6a6a" stroke-width="1" />
<text x="45.40" y="363.40" font-size="8.2" text-anchor="middle" font-weight="normal" fill="#2a2a2a" stroke="#2a2a2a" stroke-width="0.12" letter-spacing="-0.22">0</text>
<line x1="61.90" y1="349.40" x2="61.90" y2="354.40" stroke="#6a6a6a" stroke-width="1" />
<text x="62.00" y="363.40" font-size="8.2" text-anchor="middle" font-weight="normal" fill="#2a2a2a" stroke="#2a2a2a" stroke-width="0.12" letter-spacing="-0.22">0.16</text>
<line x1="78.50" y1="349.40" x2="78.50" y2="354.40" stroke="#6a6a6a" stroke-width="1" />
<text x="78.60" y="363.40" font-size="8.2" text-anchor="middle" font-weight="normal" fill="#2a2a2a" stroke="#2a2a2a" stroke-width="0.12" letter-spacing="-0.22">0.31</text>
<line x1="95.10" y1="349.40" x2="95.10" y2="354.40" stroke="#6a6a6a" stroke-width="1" />
<text x="95.20" y="363.40" font-size="8.2" text-anchor="middle" font-weight="normal" fill="#2a2a2a" stroke="#2a2a2a" stroke-width="0.12" letter-spacing="-0.22">0.63</text>
<line x1="111.70" y1="349.40" x2="111.70" y2="354.40" stroke="#6a6a6a" stroke-width="1" />
<text x="111.80" y="363.40" font-size="8.2" text-anchor="middle" font-weight="normal" fill="#2a2a2a" stroke="#2a2a2a" stroke-width="0.12" letter-spacing="-0.22">1.3</text>
<line x1="128.30" y1="349.40" x2="128.30" y2="354.40" stroke="#6a6a6a" stroke-width="1" />
<text x="128.40" y="363.40" font-size="8.2" text-anchor="middle" font-weight="normal" fill="#2a2a2a" stroke="#2a2a2a" stroke-width="0.12" letter-spacing="-0.22">2.5</text>
<line x1="144.90" y1="349.40" x2="144.90" y2="354.40" stroke="#6a6a6a" stroke-width="1" />
<text x="145.00" y="363.40" font-size="8.2" text-anchor="middle" font-weight="normal" fill="#2a2a2a" stroke="#2a2a2a" stroke-width="0.12" letter-spacing="-0.22">5</text>
<line x1="161.50" y1="349.40" x2="161.50" y2="354.40" stroke="#6a6a6a" stroke-width="1" />
<text x="161.60" y="363.40" font-size="8.2" text-anchor="middle" font-weight="normal" fill="#2a2a2a" stroke="#2a2a2a" stroke-width="0.12" letter-spacing="-0.22">10</text>
<line x1="178.10" y1="349.40" x2="178.10" y2="354.40" stroke="#6a6a6a" stroke-width="1" />
<text x="178.20" y="363.40" font-size="8.2" text-anchor="middle" font-weight="normal" fill="#2a2a2a" stroke="#2a2a2a" stroke-width="0.12" letter-spacing="-0.22">25</text>
<line x1="194.70" y1="349.40" x2="194.70" y2="354.40" stroke="#6a6a6a" stroke-width="1" />
<text x="194.80" y="363.40" font-size="8.2" text-anchor="middle" font-weight="normal" fill="#2a2a2a" stroke="#2a2a2a" stroke-width="0.12" letter-spacing="-0.22">50</text>
<line x1="211.30" y1="349.40" x2="211.30" y2="354.40" stroke="#6a6a6a" stroke-width="1" />
<text x="211.40" y="363.40" font-size="8.2" text-anchor="middle" font-weight="normal" fill="#2a2a2a" stroke="#2a2a2a" stroke-width="0.12" letter-spacing="-0.22">100</text>
<text x="129.10" y="376.30" font-size="8.9" text-anchor="middle" font-weight="normal" fill="#2a2a2a" stroke="#2a2a2a" stroke-width="0.12" >(nmol/L, 72 h)</text>
<text x="0" y="0" font-size="9.1" text-anchor="middle" fill="#2a2a2a" stroke="#2a2a2a" stroke-width="0.12" transform="translate(10.20,284.60) rotate(-90)">Cell viability (%)</text>
<text x="113.50" y="209.00" font-size="9.2" text-anchor="middle" font-weight="bold" fill="#111" stroke="#111" stroke-width="0.06" >DU145</text>
<line x1="64.70" y1="213.90" x2="158.90" y2="213.90" stroke="#555" stroke-width="1.1" />
<text x="0.60" y="203.00" font-size="12.6" text-anchor="start" font-weight="bold" fill="#000" stroke="#000" stroke-width="0.06" >C</text>
<polyline points="45.30,259.70 61.90,270.11 78.50,292.89 95.10,319.98 111.70,333.25 128.30,335.41 144.90,339.53 161.50,340.70 178.10,342.58 194.70,341.51 211.30,342.22" fill="none" stroke="#e8302a" stroke-width="0.8" opacity="0.62"/>
<polyline points="45.30,259.70 61.90,250.73 78.50,241.22 95.10,251.63 111.70,250.73 128.30,246.42 144.90,252.97 161.50,268.67 178.10,307.24 194.70,329.67 211.30,335.50" fill="none" stroke="#3652a3" stroke-width="0.8" opacity="0.62"/>
<polyline points="45.30,259.70 61.90,248.04 78.50,248.94 95.10,252.97 111.70,255.66 128.30,255.57 144.90,256.38 161.50,265.98 178.10,296.66 194.70,332.90 211.30,342.04" fill="none" stroke="#f39325" stroke-width="0.8" opacity="0.62"/>
<polyline points="45.30,259.70 61.90,270.11 78.50,274.05 95.10,268.67 111.70,272.26 128.30,268.67 144.90,279.43 161.50,282.57 178.10,321.05 194.70,331.46 211.30,338.64" fill="none" stroke="#168439" stroke-width="0.8" opacity="0.62"/>
<line x1="45.30" y1="242.66" x2="45.30" y2="276.74" stroke="#7d8fc8" stroke-width="0.9" />
<line x1="41.90" y1="242.66" x2="48.70" y2="242.66" stroke="#7d8fc8" stroke-width="0.9" />
<line x1="41.90" y1="276.74" x2="48.70" y2="276.74" stroke="#7d8fc8" stroke-width="0.9" />
<line x1="78.50" y1="221.49" x2="78.50" y2="260.96" stroke="#7d8fc8" stroke-width="0.9" />
<line x1="75.10" y1="221.49" x2="81.90" y2="221.49" stroke="#7d8fc8" stroke-width="0.9" />
<line x1="75.10" y1="260.96" x2="81.90" y2="260.96" stroke="#7d8fc8" stroke-width="0.9" />
<line x1="95.10" y1="240.86" x2="95.10" y2="262.39" stroke="#7d8fc8" stroke-width="0.9" />
<line x1="91.70" y1="240.86" x2="98.50" y2="240.86" stroke="#7d8fc8" stroke-width="0.9" />
<line x1="91.70" y1="262.39" x2="98.50" y2="262.39" stroke="#7d8fc8" stroke-width="0.9" />
<line x1="111.70" y1="239.97" x2="111.70" y2="261.49" stroke="#7d8fc8" stroke-width="0.9" />
<line x1="108.30" y1="239.97" x2="115.10" y2="239.97" stroke="#7d8fc8" stroke-width="0.9" />
<line x1="108.30" y1="261.49" x2="115.10" y2="261.49" stroke="#7d8fc8" stroke-width="0.9" />
<line x1="128.30" y1="240.15" x2="128.30" y2="252.70" stroke="#7d8fc8" stroke-width="0.9" />
<line x1="124.90" y1="240.15" x2="131.70" y2="240.15" stroke="#7d8fc8" stroke-width="0.9" />
<line x1="124.90" y1="252.70" x2="131.70" y2="252.70" stroke="#7d8fc8" stroke-width="0.9" />
<line x1="144.90" y1="235.03" x2="144.90" y2="270.91" stroke="#7d8fc8" stroke-width="0.9" />
<line x1="141.50" y1="235.03" x2="148.30" y2="235.03" stroke="#7d8fc8" stroke-width="0.9" />
<line x1="141.50" y1="270.91" x2="148.30" y2="270.91" stroke="#7d8fc8" stroke-width="0.9" />
<line x1="161.50" y1="260.60" x2="161.50" y2="276.74" stroke="#7d8fc8" stroke-width="0.9" />
<line x1="158.10" y1="260.60" x2="164.90" y2="260.60" stroke="#7d8fc8" stroke-width="0.9" />
<line x1="158.10" y1="276.74" x2="164.90" y2="276.74" stroke="#7d8fc8" stroke-width="0.9" />
<line x1="178.10" y1="303.65" x2="178.10" y2="310.83" stroke="#7d8fc8" stroke-width="0.9" />
<line x1="174.70" y1="303.65" x2="181.50" y2="303.65" stroke="#7d8fc8" stroke-width="0.9" />
<line x1="174.70" y1="310.83" x2="181.50" y2="310.83" stroke="#7d8fc8" stroke-width="0.9" />
<line x1="45.30" y1="252.52" x2="45.30" y2="266.88" stroke="#f5b86e" stroke-width="0.9" />
<line x1="41.90" y1="252.52" x2="48.70" y2="252.52" stroke="#f5b86e" stroke-width="0.9" />
<line x1="41.90" y1="266.88" x2="48.70" y2="266.88" stroke="#f5b86e" stroke-width="0.9" />
<line x1="61.90" y1="231.00" x2="61.90" y2="265.08" stroke="#f5b86e" stroke-width="0.9" />
<line x1="58.50" y1="231.00" x2="65.30" y2="231.00" stroke="#f5b86e" stroke-width="0.9" />
<line x1="58.50" y1="265.08" x2="65.30" y2="265.08" stroke="#f5b86e" stroke-width="0.9" />
<line x1="78.50" y1="240.86" x2="78.50" y2="257.01" stroke="#f5b86e" stroke-width="0.9" />
<line x1="75.10" y1="240.86" x2="81.90" y2="240.86" stroke="#f5b86e" stroke-width="0.9" />
<line x1="75.10" y1="257.01" x2="81.90" y2="257.01" stroke="#f5b86e" stroke-width="0.9" />
<line x1="111.70" y1="252.08" x2="111.70" y2="259.25" stroke="#f5b86e" stroke-width="0.9" />
<line x1="108.30" y1="252.08" x2="115.10" y2="252.08" stroke="#f5b86e" stroke-width="0.9" />
<line x1="108.30" y1="259.25" x2="115.10" y2="259.25" stroke="#f5b86e" stroke-width="0.9" />
<line x1="128.30" y1="252.88" x2="128.30" y2="258.26" stroke="#f5b86e" stroke-width="0.9" />
<line x1="124.90" y1="252.88" x2="131.70" y2="252.88" stroke="#f5b86e" stroke-width="0.9" />
<line x1="124.90" y1="258.26" x2="131.70" y2="258.26" stroke="#f5b86e" stroke-width="0.9" />
<line x1="144.90" y1="251.00" x2="144.90" y2="261.76" stroke="#f5b86e" stroke-width="0.9" />
<line x1="141.50" y1="251.00" x2="148.30" y2="251.00" stroke="#f5b86e" stroke-width="0.9" />
<line x1="141.50" y1="261.76" x2="148.30" y2="261.76" stroke="#f5b86e" stroke-width="0.9" />
<line x1="161.50" y1="257.91" x2="161.50" y2="274.05" stroke="#f5b86e" stroke-width="0.9" />
<line x1="158.10" y1="257.91" x2="164.90" y2="257.91" stroke="#f5b86e" stroke-width="0.9" />
<line x1="158.10" y1="274.05" x2="164.90" y2="274.05" stroke="#f5b86e" stroke-width="0.9" />
<line x1="178.10" y1="293.07" x2="178.10" y2="300.24" stroke="#f5b86e" stroke-width="0.9" />
<line x1="174.70" y1="293.07" x2="181.50" y2="293.07" stroke="#f5b86e" stroke-width="0.9" />
<line x1="174.70" y1="300.24" x2="181.50" y2="300.24" stroke="#f5b86e" stroke-width="0.9" />
<line x1="95.10" y1="265.08" x2="95.10" y2="272.26" stroke="#5fae7a" stroke-width="0.9" />
<line x1="91.70" y1="265.08" x2="98.50" y2="265.08" stroke="#5fae7a" stroke-width="0.9" />
<line x1="91.70" y1="272.26" x2="98.50" y2="272.26" stroke="#5fae7a" stroke-width="0.9" />
<line x1="128.30" y1="265.08" x2="128.30" y2="272.26" stroke="#5fae7a" stroke-width="0.9" />
<line x1="124.90" y1="265.08" x2="131.70" y2="265.08" stroke="#5fae7a" stroke-width="0.9" />
<line x1="124.90" y1="272.26" x2="131.70" y2="272.26" stroke="#5fae7a" stroke-width="0.9" />
<line x1="161.50" y1="278.09" x2="161.50" y2="287.06" stroke="#5fae7a" stroke-width="0.9" />
<line x1="158.10" y1="278.09" x2="164.90" y2="278.09" stroke="#5fae7a" stroke-width="0.9" />
<line x1="158.10" y1="287.06" x2="164.90" y2="287.06" stroke="#5fae7a" stroke-width="0.9" />
<line x1="178.10" y1="317.47" x2="178.10" y2="324.64" stroke="#5fae7a" stroke-width="0.9" />
<line x1="174.70" y1="317.47" x2="181.50" y2="317.47" stroke="#5fae7a" stroke-width="0.9" />
<line x1="174.70" y1="324.64" x2="181.50" y2="324.64" stroke="#5fae7a" stroke-width="0.9" />
<circle cx="45.30" cy="259.70" r="3.65" fill="#e8302a" stroke="#c42420" stroke-width="0.55"/>
<circle cx="61.90" cy="270.11" r="3.65" fill="#e8302a" stroke="#c42420" stroke-width="0.55"/>
<circle cx="78.50" cy="292.89" r="3.65" fill="#e8302a" stroke="#c42420" stroke-width="0.55"/>
<circle cx="95.10" cy="319.98" r="3.65" fill="#e8302a" stroke="#c42420" stroke-width="0.55"/>
<circle cx="111.70" cy="333.25" r="3.65" fill="#e8302a" stroke="#c42420" stroke-width="0.55"/>
<circle cx="128.30" cy="335.41" r="3.65" fill="#e8302a" stroke="#c42420" stroke-width="0.55"/>
<circle cx="144.90" cy="339.53" r="3.65" fill="#e8302a" stroke="#c42420" stroke-width="0.55"/>
<circle cx="161.50" cy="340.70" r="3.65" fill="#e8302a" stroke="#c42420" stroke-width="0.55"/>
<circle cx="178.10" cy="342.58" r="3.65" fill="#e8302a" stroke="#c42420" stroke-width="0.55"/>
<circle cx="194.70" cy="341.51" r="3.65" fill="#e8302a" stroke="#c42420" stroke-width="0.55"/>
<circle cx="211.30" cy="342.22" r="3.65" fill="#e8302a" stroke="#c42420" stroke-width="0.55"/>
<rect x="41.85" y="256.25" width="6.90" height="6.90" fill="#3652a3" stroke="#2a4288" stroke-width="0.55"/>
<rect x="58.45" y="247.28" width="6.90" height="6.90" fill="#3652a3" stroke="#2a4288" stroke-width="0.55"/>
<rect x="75.05" y="237.77" width="6.90" height="6.90" fill="#3652a3" stroke="#2a4288" stroke-width="0.55"/>
<rect x="91.65" y="248.18" width="6.90" height="6.90" fill="#3652a3" stroke="#2a4288" stroke-width="0.55"/>
<rect x="108.25" y="247.28" width="6.90" height="6.90" fill="#3652a3" stroke="#2a4288" stroke-width="0.55"/>
<rect x="124.85" y="242.97" width="6.90" height="6.90" fill="#3652a3" stroke="#2a4288" stroke-width="0.55"/>
<rect x="141.45" y="249.52" width="6.90" height="6.90" fill="#3652a3" stroke="#2a4288" stroke-width="0.55"/>
<rect x="158.05" y="265.22" width="6.90" height="6.90" fill="#3652a3" stroke="#2a4288" stroke-width="0.55"/>
<rect x="174.65" y="303.79" width="6.90" height="6.90" fill="#3652a3" stroke="#2a4288" stroke-width="0.55"/>
<rect x="191.25" y="326.22" width="6.90" height="6.90" fill="#3652a3" stroke="#2a4288" stroke-width="0.55"/>
<rect x="207.85" y="332.05" width="6.90" height="6.90" fill="#3652a3" stroke="#2a4288" stroke-width="0.55"/>
<polygon points="41.85,262.60 48.75,262.60 45.30,256.20" fill="#f39325" stroke="#d97a14" stroke-width="0.55"/>
<polygon points="58.45,250.94 65.35,250.94 61.90,244.54" fill="#f39325" stroke="#d97a14" stroke-width="0.55"/>
<polygon points="75.05,251.84 81.95,251.84 78.50,245.44" fill="#f39325" stroke="#d97a14" stroke-width="0.55"/>
<polygon points="91.65,255.87 98.55,255.87 95.10,249.47" fill="#f39325" stroke="#d97a14" stroke-width="0.55"/>
<polygon points="108.25,258.56 115.15,258.56 111.70,252.16" fill="#f39325" stroke="#d97a14" stroke-width="0.55"/>
<polygon points="124.85,258.47 131.75,258.47 128.30,252.07" fill="#f39325" stroke="#d97a14" stroke-width="0.55"/>
<polygon points="141.45,259.28 148.35,259.28 144.90,252.88" fill="#f39325" stroke="#d97a14" stroke-width="0.55"/>
<polygon points="158.05,268.88 164.95,268.88 161.50,262.48" fill="#f39325" stroke="#d97a14" stroke-width="0.55"/>
<polygon points="174.65,299.56 181.55,299.56 178.10,293.16" fill="#f39325" stroke="#d97a14" stroke-width="0.55"/>
<polygon points="191.25,335.80 198.15,335.80 194.70,329.40" fill="#f39325" stroke="#d97a14" stroke-width="0.55"/>
<polygon points="207.85,344.94 214.75,344.94 211.30,338.54" fill="#f39325" stroke="#d97a14" stroke-width="0.55"/>
<polygon points="58.45,267.21 65.35,267.21 61.90,273.61" fill="#168439" stroke="#0f6a2c" stroke-width="0.55"/>
<polygon points="75.05,271.15 81.95,271.15 78.50,277.55" fill="#168439" stroke="#0f6a2c" stroke-width="0.55"/>
<polygon points="91.65,265.77 98.55,265.77 95.10,272.17" fill="#168439" stroke="#0f6a2c" stroke-width="0.55"/>
<polygon points="108.25,269.36 115.15,269.36 111.70,275.76" fill="#168439" stroke="#0f6a2c" stroke-width="0.55"/>
<polygon points="124.85,265.77 131.75,265.77 128.30,272.17" fill="#168439" stroke="#0f6a2c" stroke-width="0.55"/>
<polygon points="141.45,276.53 148.35,276.53 144.90,282.93" fill="#168439" stroke="#0f6a2c" stroke-width="0.55"/>
<polygon points="158.05,279.67 164.95,279.67 161.50,286.07" fill="#168439" stroke="#0f6a2c" stroke-width="0.55"/>
<polygon points="174.65,318.15 181.55,318.15 178.10,324.55" fill="#168439" stroke="#0f6a2c" stroke-width="0.55"/>
<line x1="197.40" y1="212.50" x2="211.60" y2="212.50" stroke="#ec7a6e" stroke-width="1" />
<circle cx="204.60" cy="212.50" r="3.94" fill="#e8302a" stroke="#c42420" stroke-width="0.55"/>
<text x="214.70" y="215.70" font-size="8.9" text-anchor="start" font-weight="normal" fill="#2a2a2a" stroke="#2a2a2a" stroke-width="0.12" >Exatecan</text>
<line x1="197.40" y1="230.70" x2="211.60" y2="230.70" stroke="#7d8fc8" stroke-width="1" />
<rect x="200.87" y="226.97" width="7.45" height="7.45" fill="#3652a3" stroke="#2a4288" stroke-width="0.55"/>
<text x="214.70" y="233.90" font-size="8.9" text-anchor="start" font-weight="normal" fill="#2a2a2a" stroke="#2a2a2a" stroke-width="0.12" >Topotecan</text>
<line x1="197.40" y1="248.00" x2="211.60" y2="248.00" stroke="#f5b86e" stroke-width="1" />
<polygon points="200.87,251.13 208.33,251.13 204.60,244.22" fill="#f39325" stroke="#d97a14" stroke-width="0.55"/>
<text x="214.70" y="251.20" font-size="8.9" text-anchor="start" font-weight="normal" fill="#2a2a2a" stroke="#2a2a2a" stroke-width="0.12" >LMP400</text>
<line x1="197.40" y1="264.80" x2="211.60" y2="264.80" stroke="#5fae7a" stroke-width="1" />
<polygon points="200.87,261.67 208.33,261.67 204.60,268.58" fill="#168439" stroke="#0f6a2c" stroke-width="0.55"/>
<text x="214.70" y="268.00" font-size="8.9" text-anchor="start" font-weight="normal" fill="#2a2a2a" stroke="#2a2a2a" stroke-width="0.12" >SN-38</text>
<polyline points="194.10,212.50 185.60,212.50 185.60,247.75 190.80,247.75" fill="none" stroke="#6a6a6a" stroke-width="1"/>
<polyline points="194.60,230.70 190.80,230.70 190.80,264.80 194.60,264.80" fill="none" stroke="#6a6a6a" stroke-width="1"/>
<circle cx="181.20" cy="227.20" r="1.1" fill="#222"/>
<line x1="301.30" y1="223.82" x2="301.30" y2="349.40" stroke="#6a6a6a" stroke-width="1" />
<line x1="296.80" y1="349.40" x2="301.30" y2="349.40" stroke="#6a6a6a" stroke-width="1" />
<text x="294.30" y="352.30" font-size="8.2" text-anchor="end" font-weight="normal" fill="#2a2a2a" stroke="#2a2a2a" stroke-width="0.12" >0</text>
<line x1="296.80" y1="331.46" x2="301.30" y2="331.46" stroke="#6a6a6a" stroke-width="1" />
<text x="294.30" y="334.36" font-size="8.2" text-anchor="end" font-weight="normal" fill="#2a2a2a" stroke="#2a2a2a" stroke-width="0.12" >20</text>
<line x1="296.80" y1="313.52" x2="301.30" y2="313.52" stroke="#6a6a6a" stroke-width="1" />
<text x="294.30" y="316.42" font-size="8.2" text-anchor="end" font-weight="normal" fill="#2a2a2a" stroke="#2a2a2a" stroke-width="0.12" >40</text>
<line x1="296.80" y1="295.58" x2="301.30" y2="295.58" stroke="#6a6a6a" stroke-width="1" />
<text x="294.30" y="298.48" font-size="8.2" text-anchor="end" font-weight="normal" fill="#2a2a2a" stroke="#2a2a2a" stroke-width="0.12" >60</text>
<line x1="296.80" y1="277.64" x2="301.30" y2="277.64" stroke="#6a6a6a" stroke-width="1" />
<text x="294.30" y="280.54" font-size="8.2" text-anchor="end" font-weight="normal" fill="#2a2a2a" stroke="#2a2a2a" stroke-width="0.12" >80</text>
<line x1="296.80" y1="259.70" x2="301.30" y2="259.70" stroke="#6a6a6a" stroke-width="1" />
<text x="294.30" y="262.60" font-size="8.2" text-anchor="end" font-weight="normal" fill="#2a2a2a" stroke="#2a2a2a" stroke-width="0.12" >100</text>
<line x1="296.80" y1="241.76" x2="301.30" y2="241.76" stroke="#6a6a6a" stroke-width="1" />
<text x="294.30" y="244.66" font-size="8.2" text-anchor="end" font-weight="normal" fill="#2a2a2a" stroke="#2a2a2a" stroke-width="0.12" >120</text>
<line x1="296.80" y1="223.82" x2="301.30" y2="223.82" stroke="#6a6a6a" stroke-width="1" />
<text x="294.30" y="226.72" font-size="8.2" text-anchor="end" font-weight="normal" fill="#2a2a2a" stroke="#2a2a2a" stroke-width="0.12" >140</text>
<line x1="296.20" y1="349.40" x2="489.50" y2="349.40" stroke="#6a6a6a" stroke-width="1" />
<line x1="311.70" y1="349.40" x2="311.70" y2="354.40" stroke="#6a6a6a" stroke-width="1" />
<text x="311.80" y="364.20" font-size="8.2" text-anchor="middle" font-weight="normal" fill="#2a2a2a" stroke="#2a2a2a" stroke-width="0.12" letter-spacing="-0.22">0</text>
<line x1="328.35" y1="349.40" x2="328.35" y2="354.40" stroke="#6a6a6a" stroke-width="1" />
<text x="328.45" y="364.20" font-size="8.2" text-anchor="middle" font-weight="normal" fill="#2a2a2a" stroke="#2a2a2a" stroke-width="0.12" letter-spacing="-0.22">0.16</text>
<line x1="345.00" y1="349.40" x2="345.00" y2="354.40" stroke="#6a6a6a" stroke-width="1" />
<text x="345.10" y="364.20" font-size="8.2" text-anchor="middle" font-weight="normal" fill="#2a2a2a" stroke="#2a2a2a" stroke-width="0.12" letter-spacing="-0.22">0.31</text>
<line x1="361.65" y1="349.40" x2="361.65" y2="354.40" stroke="#6a6a6a" stroke-width="1" />
<text x="361.75" y="364.20" font-size="8.2" text-anchor="middle" font-weight="normal" fill="#2a2a2a" stroke="#2a2a2a" stroke-width="0.12" letter-spacing="-0.22">0.63</text>
<line x1="378.30" y1="349.40" x2="378.30" y2="354.40" stroke="#6a6a6a" stroke-width="1" />
<text x="378.40" y="364.20" font-size="8.2" text-anchor="middle" font-weight="normal" fill="#2a2a2a" stroke="#2a2a2a" stroke-width="0.12" letter-spacing="-0.22">1.3</text>
<line x1="394.95" y1="349.40" x2="394.95" y2="354.40" stroke="#6a6a6a" stroke-width="1" />
<text x="395.05" y="364.20" font-size="8.2" text-anchor="middle" font-weight="normal" fill="#2a2a2a" stroke="#2a2a2a" stroke-width="0.12" letter-spacing="-0.22">2.5</text>
<line x1="411.60" y1="349.40" x2="411.60" y2="354.40" stroke="#6a6a6a" stroke-width="1" />
<text x="411.70" y="364.20" font-size="8.2" text-anchor="middle" font-weight="normal" fill="#2a2a2a" stroke="#2a2a2a" stroke-width="0.12" letter-spacing="-0.22">5</text>
<line x1="428.25" y1="349.40" x2="428.25" y2="354.40" stroke="#6a6a6a" stroke-width="1" />
<text x="428.35" y="364.20" font-size="8.2" text-anchor="middle" font-weight="normal" fill="#2a2a2a" stroke="#2a2a2a" stroke-width="0.12" letter-spacing="-0.22">10</text>
<line x1="444.90" y1="349.40" x2="444.90" y2="354.40" stroke="#6a6a6a" stroke-width="1" />
<text x="445.00" y="364.20" font-size="8.2" text-anchor="middle" font-weight="normal" fill="#2a2a2a" stroke="#2a2a2a" stroke-width="0.12" letter-spacing="-0.22">25</text>
<line x1="461.55" y1="349.40" x2="461.55" y2="354.40" stroke="#6a6a6a" stroke-width="1" />
<text x="461.65" y="364.20" font-size="8.2" text-anchor="middle" font-weight="normal" fill="#2a2a2a" stroke="#2a2a2a" stroke-width="0.12" letter-spacing="-0.22">50</text>
<line x1="478.20" y1="349.40" x2="478.20" y2="354.40" stroke="#6a6a6a" stroke-width="1" />
<text x="478.30" y="364.20" font-size="8.2" text-anchor="middle" font-weight="normal" fill="#2a2a2a" stroke="#2a2a2a" stroke-width="0.12" letter-spacing="-0.22">100</text>
<text x="392.80" y="376.60" font-size="8.9" text-anchor="middle" font-weight="normal" fill="#2a2a2a" stroke="#2a2a2a" stroke-width="0.12" >(nmol/L, 72 h)</text>
<text x="0" y="0" font-size="9.1" text-anchor="middle" fill="#2a2a2a" stroke="#2a2a2a" stroke-width="0.12" transform="translate(276.60,285.00) rotate(-90)">Cell viability (%)</text>
<text x="386.50" y="208.60" font-size="9.2" text-anchor="middle" font-weight="bold" fill="#111" stroke="#111" stroke-width="0.06" >DMS114</text>
<line x1="342.70" y1="213.00" x2="436.60" y2="213.00" stroke="#555" stroke-width="1.1" />
<text x="271.00" y="202.90" font-size="12.6" text-anchor="start" font-weight="bold" fill="#000" stroke="#000" stroke-width="0.06" >D</text>
<polyline points="311.70,259.70 328.35,269.21 345.00,281.23 361.65,305.45 378.30,320.34 394.95,325.54 411.60,328.86 428.25,330.20 444.90,334.15 461.55,335.05 478.20,338.10" fill="none" stroke="#e8302a" stroke-width="0.8" opacity="0.62"/>
<polyline points="311.70,259.70 328.35,251.09 345.00,259.70 361.65,249.83 378.30,244.45 394.95,248.94 411.60,255.57 428.25,280.51 444.90,312.62 461.55,323.66 478.20,330.20" fill="none" stroke="#3652a3" stroke-width="0.8" opacity="0.62"/>
<polyline points="311.70,259.70 328.35,263.47 345.00,259.70 361.65,261.58 378.30,264.81 394.95,262.93 411.60,265.26 428.25,269.57 444.90,285.71 461.55,308.14 478.20,327.06" fill="none" stroke="#f39325" stroke-width="0.8" opacity="0.62"/>
<polyline points="311.70,259.70 328.35,257.01 345.00,259.70 361.65,255.21 378.30,256.38 394.95,258.18 411.60,271.36 428.25,298.81 444.90,321.86 461.55,326.26 478.20,328.41" fill="none" stroke="#168439" stroke-width="0.8" opacity="0.62"/>
<line x1="361.65" y1="239.97" x2="361.65" y2="259.70" stroke="#7d8fc8" stroke-width="0.9" />
<line x1="358.25" y1="239.97" x2="365.05" y2="239.97" stroke="#7d8fc8" stroke-width="0.9" />
<line x1="358.25" y1="259.70" x2="365.05" y2="259.70" stroke="#7d8fc8" stroke-width="0.9" />
<line x1="378.30" y1="235.48" x2="378.30" y2="253.42" stroke="#7d8fc8" stroke-width="0.9" />
<line x1="374.90" y1="235.48" x2="381.70" y2="235.48" stroke="#7d8fc8" stroke-width="0.9" />
<line x1="374.90" y1="253.42" x2="381.70" y2="253.42" stroke="#7d8fc8" stroke-width="0.9" />
<line x1="394.95" y1="245.35" x2="394.95" y2="252.52" stroke="#7d8fc8" stroke-width="0.9" />
<line x1="391.55" y1="245.35" x2="398.35" y2="245.35" stroke="#7d8fc8" stroke-width="0.9" />
<line x1="391.55" y1="252.52" x2="398.35" y2="252.52" stroke="#7d8fc8" stroke-width="0.9" />
<line x1="411.60" y1="250.19" x2="411.60" y2="260.96" stroke="#7d8fc8" stroke-width="0.9" />
<line x1="408.20" y1="250.19" x2="415.00" y2="250.19" stroke="#7d8fc8" stroke-width="0.9" />
<line x1="408.20" y1="260.96" x2="415.00" y2="260.96" stroke="#7d8fc8" stroke-width="0.9" />
<line x1="311.70" y1="253.42" x2="311.70" y2="265.98" stroke="#f5b86e" stroke-width="0.9" />
<line x1="308.30" y1="253.42" x2="315.10" y2="253.42" stroke="#f5b86e" stroke-width="0.9" />
<line x1="308.30" y1="265.98" x2="315.10" y2="265.98" stroke="#f5b86e" stroke-width="0.9" />
<line x1="345.00" y1="251.63" x2="345.00" y2="267.77" stroke="#f5b86e" stroke-width="0.9" />
<line x1="341.60" y1="251.63" x2="348.40" y2="251.63" stroke="#f5b86e" stroke-width="0.9" />
<line x1="341.60" y1="267.77" x2="348.40" y2="267.77" stroke="#f5b86e" stroke-width="0.9" />
<line x1="361.65" y1="257.10" x2="361.65" y2="266.07" stroke="#f5b86e" stroke-width="0.9" />
<line x1="358.25" y1="257.10" x2="365.05" y2="257.10" stroke="#f5b86e" stroke-width="0.9" />
<line x1="358.25" y1="266.07" x2="365.05" y2="266.07" stroke="#f5b86e" stroke-width="0.9" />
<line x1="428.25" y1="264.18" x2="428.25" y2="274.95" stroke="#f5b86e" stroke-width="0.9" />
<line x1="424.85" y1="264.18" x2="431.65" y2="264.18" stroke="#f5b86e" stroke-width="0.9" />
<line x1="424.85" y1="274.95" x2="431.65" y2="274.95" stroke="#f5b86e" stroke-width="0.9" />
<line x1="444.90" y1="283.02" x2="444.90" y2="288.40" stroke="#f5b86e" stroke-width="0.9" />
<line x1="441.50" y1="283.02" x2="448.30" y2="283.02" stroke="#f5b86e" stroke-width="0.9" />
<line x1="441.50" y1="288.40" x2="448.30" y2="288.40" stroke="#f5b86e" stroke-width="0.9" />
<circle cx="311.70" cy="259.70" r="3.65" fill="#e8302a" stroke="#c42420" stroke-width="0.55"/>
<circle cx="328.35" cy="269.21" r="3.65" fill="#e8302a" stroke="#c42420" stroke-width="0.55"/>
<circle cx="345.00" cy="281.23" r="3.65" fill="#e8302a" stroke="#c42420" stroke-width="0.55"/>
<circle cx="361.65" cy="305.45" r="3.65" fill="#e8302a" stroke="#c42420" stroke-width="0.55"/>
<circle cx="378.30" cy="320.34" r="3.65" fill="#e8302a" stroke="#c42420" stroke-width="0.55"/>
<circle cx="394.95" cy="325.54" r="3.65" fill="#e8302a" stroke="#c42420" stroke-width="0.55"/>
<circle cx="411.60" cy="328.86" r="3.65" fill="#e8302a" stroke="#c42420" stroke-width="0.55"/>
<circle cx="428.25" cy="330.20" r="3.65" fill="#e8302a" stroke="#c42420" stroke-width="0.55"/>
<circle cx="444.90" cy="334.15" r="3.65" fill="#e8302a" stroke="#c42420" stroke-width="0.55"/>
<circle cx="461.55" cy="335.05" r="3.65" fill="#e8302a" stroke="#c42420" stroke-width="0.55"/>
<circle cx="478.20" cy="338.10" r="3.65" fill="#e8302a" stroke="#c42420" stroke-width="0.55"/>
<rect x="308.25" y="256.25" width="6.90" height="6.90" fill="#3652a3" stroke="#2a4288" stroke-width="0.55"/>
<rect x="324.90" y="247.64" width="6.90" height="6.90" fill="#3652a3" stroke="#2a4288" stroke-width="0.55"/>
<rect x="341.55" y="256.25" width="6.90" height="6.90" fill="#3652a3" stroke="#2a4288" stroke-width="0.55"/>
<rect x="358.20" y="246.38" width="6.90" height="6.90" fill="#3652a3" stroke="#2a4288" stroke-width="0.55"/>
<rect x="374.85" y="241.00" width="6.90" height="6.90" fill="#3652a3" stroke="#2a4288" stroke-width="0.55"/>
<rect x="391.50" y="245.49" width="6.90" height="6.90" fill="#3652a3" stroke="#2a4288" stroke-width="0.55"/>
<rect x="408.15" y="252.12" width="6.90" height="6.90" fill="#3652a3" stroke="#2a4288" stroke-width="0.55"/>
<rect x="424.80" y="277.06" width="6.90" height="6.90" fill="#3652a3" stroke="#2a4288" stroke-width="0.55"/>
<rect x="441.45" y="309.17" width="6.90" height="6.90" fill="#3652a3" stroke="#2a4288" stroke-width="0.55"/>
<rect x="458.10" y="320.21" width="6.90" height="6.90" fill="#3652a3" stroke="#2a4288" stroke-width="0.55"/>
<rect x="474.75" y="326.75" width="6.90" height="6.90" fill="#3652a3" stroke="#2a4288" stroke-width="0.55"/>
<polygon points="308.25,262.60 315.15,262.60 311.70,256.20" fill="#f39325" stroke="#d97a14" stroke-width="0.55"/>
<polygon points="324.90,266.37 331.80,266.37 328.35,259.97" fill="#f39325" stroke="#d97a14" stroke-width="0.55"/>
<polygon points="341.55,262.60 348.45,262.60 345.00,256.20" fill="#f39325" stroke="#d97a14" stroke-width="0.55"/>
<polygon points="358.20,264.48 365.10,264.48 361.65,258.08" fill="#f39325" stroke="#d97a14" stroke-width="0.55"/>
<polygon points="374.85,267.71 381.75,267.71 378.30,261.31" fill="#f39325" stroke="#d97a14" stroke-width="0.55"/>
<polygon points="391.50,265.83 398.40,265.83 394.95,259.43" fill="#f39325" stroke="#d97a14" stroke-width="0.55"/>
<polygon points="408.15,268.16 415.05,268.16 411.60,261.76" fill="#f39325" stroke="#d97a14" stroke-width="0.55"/>
<polygon points="424.80,272.47 431.70,272.47 428.25,266.07" fill="#f39325" stroke="#d97a14" stroke-width="0.55"/>
<polygon points="441.45,288.61 448.35,288.61 444.90,282.21" fill="#f39325" stroke="#d97a14" stroke-width="0.55"/>
<polygon points="458.10,311.04 465.00,311.04 461.55,304.64" fill="#f39325" stroke="#d97a14" stroke-width="0.55"/>
<polygon points="474.75,329.96 481.65,329.96 478.20,323.56" fill="#f39325" stroke="#d97a14" stroke-width="0.55"/>
<polygon points="308.25,256.80 315.15,256.80 311.70,263.20" fill="#168439" stroke="#0f6a2c" stroke-width="0.55"/>
<polygon points="324.90,254.11 331.80,254.11 328.35,260.51" fill="#168439" stroke="#0f6a2c" stroke-width="0.55"/>
<polygon points="341.55,256.80 348.45,256.80 345.00,263.20" fill="#168439" stroke="#0f6a2c" stroke-width="0.55"/>
<polygon points="358.20,252.31 365.10,252.31 361.65,258.71" fill="#168439" stroke="#0f6a2c" stroke-width="0.55"/>
<polygon points="374.85,253.48 381.75,253.48 378.30,259.88" fill="#168439" stroke="#0f6a2c" stroke-width="0.55"/>
<polygon points="391.50,255.28 398.40,255.28 394.95,261.68" fill="#168439" stroke="#0f6a2c" stroke-width="0.55"/>
<polygon points="408.15,268.46 415.05,268.46 411.60,274.86" fill="#168439" stroke="#0f6a2c" stroke-width="0.55"/>
<polygon points="424.80,295.91 431.70,295.91 428.25,302.31" fill="#168439" stroke="#0f6a2c" stroke-width="0.55"/>
<polygon points="441.45,318.96 448.35,318.96 444.90,325.36" fill="#168439" stroke="#0f6a2c" stroke-width="0.55"/>
<polygon points="458.10,323.36 465.00,323.36 461.55,329.76" fill="#168439" stroke="#0f6a2c" stroke-width="0.55"/>
<polygon points="474.75,325.51 481.65,325.51 478.20,331.91" fill="#168439" stroke="#0f6a2c" stroke-width="0.55"/>
<line x1="461.20" y1="213.40" x2="475.40" y2="213.40" stroke="#ec7a6e" stroke-width="1" />
<circle cx="468.40" cy="213.40" r="3.94" fill="#e8302a" stroke="#c42420" stroke-width="0.55"/>
<text x="479.00" y="216.60" font-size="8.9" text-anchor="start" font-weight="normal" fill="#2a2a2a" stroke="#2a2a2a" stroke-width="0.12" >Exatecan</text>
<line x1="461.20" y1="231.50" x2="475.40" y2="231.50" stroke="#7d8fc8" stroke-width="1" />
<rect x="464.67" y="227.77" width="7.45" height="7.45" fill="#3652a3" stroke="#2a4288" stroke-width="0.55"/>
<text x="479.00" y="234.70" font-size="8.9" text-anchor="start" font-weight="normal" fill="#2a2a2a" stroke="#2a2a2a" stroke-width="0.12" >Topotecan</text>
<line x1="461.20" y1="248.80" x2="475.40" y2="248.80" stroke="#f5b86e" stroke-width="1" />
<polygon points="464.67,251.93 472.13,251.93 468.40,245.02" fill="#f39325" stroke="#d97a14" stroke-width="0.55"/>
<text x="479.00" y="252.00" font-size="8.9" text-anchor="start" font-weight="normal" fill="#2a2a2a" stroke="#2a2a2a" stroke-width="0.12" >LMP400</text>
<line x1="461.20" y1="265.30" x2="475.40" y2="265.30" stroke="#5fae7a" stroke-width="1" />
<polygon points="464.67,262.17 472.13,262.17 468.40,269.08" fill="#168439" stroke="#0f6a2c" stroke-width="0.55"/>
<text x="479.00" y="268.50" font-size="8.9" text-anchor="start" font-weight="normal" fill="#2a2a2a" stroke="#2a2a2a" stroke-width="0.12" >SN-38</text>
<polyline points="457.90,213.40 449.60,213.40 449.60,248.40 454.70,248.40" fill="none" stroke="#6a6a6a" stroke-width="1"/>
<polyline points="458.40,231.50 454.70,231.50 454.70,265.30 458.40,265.30" fill="none" stroke="#6a6a6a" stroke-width="1"/>
<circle cx="445.60" cy="229.00" r="1.1" fill="#222"/>
<text x="0.90" y="392.40" font-size="12.6" text-anchor="start" font-weight="bold" fill="#000" stroke="#000" stroke-width="0.06" >E</text>
<line x1="11.90" y1="399.30" x2="505.00" y2="399.30" stroke="#222" stroke-width="1.2" />
<line x1="11.90" y1="439.20" x2="505.00" y2="439.20" stroke="#222" stroke-width="1.2" />
<line x1="11.90" y1="533.40" x2="505.00" y2="533.40" stroke="#222" stroke-width="1.6" />
<line x1="11.90" y1="462.70" x2="505.00" y2="462.70" stroke="#5a5a5a" stroke-width="1.1" stroke-dasharray="1.3 2.2"/>
<line x1="11.90" y1="486.40" x2="505.00" y2="486.40" stroke="#5a5a5a" stroke-width="1.1" stroke-dasharray="1.3 2.2"/>
<line x1="11.90" y1="509.30" x2="505.00" y2="509.30" stroke="#5a5a5a" stroke-width="1.1" stroke-dasharray="1.3 2.2"/>
<line x1="79.50" y1="400.00" x2="79.50" y2="532.70" stroke="#5a5a5a" stroke-width="1.1" stroke-dasharray="1.3 2.2"/>
<line x1="143.50" y1="400.00" x2="143.50" y2="532.70" stroke="#5a5a5a" stroke-width="1.1" stroke-dasharray="1.3 2.2"/>
<line x1="206.70" y1="400.00" x2="206.70" y2="532.70" stroke="#5a5a5a" stroke-width="1.1" stroke-dasharray="1.3 2.2"/>
<line x1="269.90" y1="400.00" x2="269.90" y2="532.70" stroke="#5a5a5a" stroke-width="1.1" stroke-dasharray="1.3 2.2"/>
<line x1="332.30" y1="400.00" x2="332.30" y2="532.70" stroke="#5a5a5a" stroke-width="1.1" stroke-dasharray="1.3 2.2"/>
<line x1="392.10" y1="423.50" x2="392.10" y2="532.70" stroke="#5a5a5a" stroke-width="1.1" stroke-dasharray="1.3 2.2"/>
<line x1="447.80" y1="423.50" x2="447.80" y2="532.70" stroke="#5a5a5a" stroke-width="1.1" stroke-dasharray="1.3 2.2"/>
<line x1="332.30" y1="423.50" x2="505.00" y2="423.50" stroke="#5a5a5a" stroke-width="1.1" stroke-dasharray="1.3 2.2"/>
<line x1="16.10" y1="402.30" x2="74.10" y2="436.40" stroke="#333" stroke-width="0.9" />
<text x="45.80" y="434.40" font-size="8.5" text-anchor="middle" font-weight="normal" fill="#2a2a2a" stroke="#2a2a2a" stroke-width="0.12" >Cell line</text>
<text x="111.50" y="415.60" font-size="8.5" text-anchor="middle" font-weight="bold" fill="#222" stroke="#222" stroke-width="0.06" >Exatecan</text>
<text x="111.50" y="426.4" font-size="8.9" text-anchor="middle" fill="#2a2a2a" stroke="#2a2a2a" stroke-width="0.12">IC<tspan font-size="6.9" dy="1.3">50</tspan></text>
<text x="111.50" y="434.80" font-size="6.9" text-anchor="middle" font-weight="normal" fill="#2a2a2a" stroke="#2a2a2a" stroke-width="0.08" >(95% CI)</text>
<text x="175.10" y="415.60" font-size="8.5" text-anchor="middle" font-weight="bold" fill="#222" stroke="#222" stroke-width="0.06" >SN-38</text>
<text x="175.10" y="426.4" font-size="8.9" text-anchor="middle" fill="#2a2a2a" stroke="#2a2a2a" stroke-width="0.12">IC<tspan font-size="6.9" dy="1.3">50</tspan></text>
<text x="175.10" y="434.80" font-size="6.9" text-anchor="middle" font-weight="normal" fill="#2a2a2a" stroke="#2a2a2a" stroke-width="0.08" >(95% CI)</text>
<text x="238.30" y="415.60" font-size="8.5" text-anchor="middle" font-weight="bold" fill="#222" stroke="#222" stroke-width="0.06" >Topotecan</text>
<text x="238.30" y="426.4" font-size="8.9" text-anchor="middle" fill="#2a2a2a" stroke="#2a2a2a" stroke-width="0.12">IC<tspan font-size="6.9" dy="1.3">50</tspan></text>
<text x="238.30" y="434.80" font-size="6.9" text-anchor="middle" font-weight="normal" fill="#2a2a2a" stroke="#2a2a2a" stroke-width="0.08" >(95% CI)</text>
<text x="301.10" y="415.60" font-size="8.5" text-anchor="middle" font-weight="bold" fill="#222" stroke="#222" stroke-width="0.06" >LMP400</text>
<text x="301.10" y="426.4" font-size="8.9" text-anchor="middle" fill="#2a2a2a" stroke="#2a2a2a" stroke-width="0.12">IC<tspan font-size="6.9" dy="1.3">50</tspan></text>
<text x="301.10" y="434.80" font-size="6.9" text-anchor="middle" font-weight="normal" fill="#2a2a2a" stroke="#2a2a2a" stroke-width="0.08" >(95% CI)</text>
<text x="422.50" y="409.0" font-size="8.6" text-anchor="middle" font-weight="bold" fill="#222" stroke="#222" stroke-width="0.06">Relative ratio of IC<tspan font-size="6.6" dy="1.9">50</tspan></text>
<text x="422.50" y="419.00" font-size="7.9" text-anchor="middle" font-weight="normal" fill="#2a2a2a" stroke="#2a2a2a" stroke-width="0.12" >(Inhibitor/exatecan)</text>
<text x="362.20" y="434.20" font-size="8.5" text-anchor="middle" font-weight="normal" fill="#2a2a2a" stroke="#2a2a2a" stroke-width="0.12" >SN-38</text>
<text x="419.95" y="434.20" font-size="8.5" text-anchor="middle" font-weight="normal" fill="#2a2a2a" stroke="#2a2a2a" stroke-width="0.12" >Topotecan</text>
<text x="476.40" y="434.20" font-size="8.5" text-anchor="middle" font-weight="normal" fill="#2a2a2a" stroke="#2a2a2a" stroke-width="0.12" >LMP400</text>
<text x="46.10" y="454.55" font-size="8.8" text-anchor="middle" font-weight="normal" fill="#2a2a2a" stroke="#2a2a2a" stroke-width="0.12" >MOLT-4</text>
<text x="111.50" y="449.25" font-size="8.7" text-anchor="middle" font-weight="normal" fill="#2a2a2a" stroke="#2a2a2a" stroke-width="0.12" >0.16</text>
<text x="111.50" y="458.25" font-size="6.9" text-anchor="middle" font-weight="normal" fill="#2a2a2a" stroke="#2a2a2a" stroke-width="0.08" >(0.16–0.16)</text>
<text x="175.10" y="449.25" font-size="8.7" text-anchor="middle" font-weight="normal" fill="#2a2a2a" stroke="#2a2a2a" stroke-width="0.12" >2.96</text>
<text x="175.10" y="458.25" font-size="6.9" text-anchor="middle" font-weight="normal" fill="#2a2a2a" stroke="#2a2a2a" stroke-width="0.08" >(2.70–3.24)</text>
<text x="238.30" y="449.25" font-size="8.7" text-anchor="middle" font-weight="normal" fill="#2a2a2a" stroke="#2a2a2a" stroke-width="0.12" >5.33</text>
<text x="238.30" y="458.25" font-size="6.9" text-anchor="middle" font-weight="normal" fill="#2a2a2a" stroke="#2a2a2a" stroke-width="0.08" >(4.53–6.19)</text>
<text x="301.10" y="449.25" font-size="8.7" text-anchor="middle" font-weight="normal" fill="#2a2a2a" stroke="#2a2a2a" stroke-width="0.12" >8.62</text>
<text x="301.10" y="458.25" font-size="6.9" text-anchor="middle" font-weight="normal" fill="#2a2a2a" stroke="#2a2a2a" stroke-width="0.08" >(7.37–10.04)</text>
<text x="362.20" y="455.05" font-size="8.7" text-anchor="middle" font-weight="normal" fill="#2a2a2a" stroke="#2a2a2a" stroke-width="0.12" >18.50</text>
<text x="419.95" y="455.05" font-size="8.7" text-anchor="middle" font-weight="normal" fill="#2a2a2a" stroke="#2a2a2a" stroke-width="0.12" >33.31</text>
<text x="476.40" y="455.05" font-size="8.7" text-anchor="middle" font-weight="normal" fill="#2a2a2a" stroke="#2a2a2a" stroke-width="0.12" >53.88</text>
<text x="46.10" y="478.15" font-size="8.8" text-anchor="middle" font-weight="normal" fill="#2a2a2a" stroke="#2a2a2a" stroke-width="0.12" >CCRF-CEM</text>
<text x="111.50" y="472.85" font-size="8.7" text-anchor="middle" font-weight="normal" fill="#2a2a2a" stroke="#2a2a2a" stroke-width="0.12" >0.25</text>
<text x="111.50" y="481.85" font-size="6.9" text-anchor="middle" font-weight="normal" fill="#2a2a2a" stroke="#2a2a2a" stroke-width="0.08" >(0.23–0.26)</text>
<text x="175.10" y="472.85" font-size="8.7" text-anchor="middle" font-weight="normal" fill="#2a2a2a" stroke="#2a2a2a" stroke-width="0.12" >3.63</text>
<text x="175.10" y="481.85" font-size="6.9" text-anchor="middle" font-weight="normal" fill="#2a2a2a" stroke="#2a2a2a" stroke-width="0.08" >(3.44–3.84)</text>
<text x="238.30" y="472.85" font-size="8.7" text-anchor="middle" font-weight="normal" fill="#2a2a2a" stroke="#2a2a2a" stroke-width="0.12" >5.32</text>
<text x="238.30" y="481.85" font-size="6.9" text-anchor="middle" font-weight="normal" fill="#2a2a2a" stroke="#2a2a2a" stroke-width="0.08" >(4.46–6.34)</text>
<text x="301.10" y="472.85" font-size="8.7" text-anchor="middle" font-weight="normal" fill="#2a2a2a" stroke="#2a2a2a" stroke-width="0.12" >14.04</text>
<text x="301.10" y="481.85" font-size="6.9" text-anchor="middle" font-weight="normal" fill="#2a2a2a" stroke="#2a2a2a" stroke-width="0.08" >(12.13–16.25)</text>
<text x="362.20" y="478.65" font-size="8.7" text-anchor="middle" font-weight="normal" fill="#2a2a2a" stroke="#2a2a2a" stroke-width="0.12" >14.52</text>
<text x="419.95" y="478.65" font-size="8.7" text-anchor="middle" font-weight="normal" fill="#2a2a2a" stroke="#2a2a2a" stroke-width="0.12" >21.28</text>
<text x="476.40" y="478.65" font-size="8.7" text-anchor="middle" font-weight="normal" fill="#2a2a2a" stroke="#2a2a2a" stroke-width="0.12" >56.16</text>
<text x="46.10" y="501.45" font-size="8.8" text-anchor="middle" font-weight="normal" fill="#2a2a2a" stroke="#2a2a2a" stroke-width="0.12" >DU145</text>
<text x="111.50" y="496.15" font-size="8.7" text-anchor="middle" font-weight="normal" fill="#2a2a2a" stroke="#2a2a2a" stroke-width="0.12" >0.49</text>
<text x="111.50" y="505.15" font-size="6.9" text-anchor="middle" font-weight="normal" fill="#2a2a2a" stroke="#2a2a2a" stroke-width="0.08" >(0.46–0.52)</text>
<text x="175.10" y="496.15" font-size="8.7" text-anchor="middle" font-weight="normal" fill="#2a2a2a" stroke="#2a2a2a" stroke-width="0.12" >13.90</text>
<text x="175.10" y="505.15" font-size="6.9" text-anchor="middle" font-weight="normal" fill="#2a2a2a" stroke="#2a2a2a" stroke-width="0.08" >(10.87–17.31)</text>
<text x="238.30" y="496.15" font-size="8.7" text-anchor="middle" font-weight="normal" fill="#2a2a2a" stroke="#2a2a2a" stroke-width="0.12" >17.57</text>
<text x="238.30" y="505.15" font-size="6.9" text-anchor="middle" font-weight="normal" fill="#2a2a2a" stroke="#2a2a2a" stroke-width="0.08" >(13.82–22.09)</text>
<text x="301.10" y="496.15" font-size="8.7" text-anchor="middle" font-weight="normal" fill="#2a2a2a" stroke="#2a2a2a" stroke-width="0.12" >22.47</text>
<text x="301.10" y="505.15" font-size="6.9" text-anchor="middle" font-weight="normal" fill="#2a2a2a" stroke="#2a2a2a" stroke-width="0.08" >(19.39–25.86)</text>
<text x="362.20" y="501.95" font-size="8.7" text-anchor="middle" font-weight="normal" fill="#2a2a2a" stroke="#2a2a2a" stroke-width="0.12" >28.55</text>
<text x="419.95" y="501.95" font-size="8.7" text-anchor="middle" font-weight="normal" fill="#2a2a2a" stroke="#2a2a2a" stroke-width="0.12" >35.86</text>
<text x="476.40" y="501.95" font-size="8.7" text-anchor="middle" font-weight="normal" fill="#2a2a2a" stroke="#2a2a2a" stroke-width="0.12" >45.86</text>
<text x="46.10" y="524.95" font-size="8.8" text-anchor="middle" font-weight="normal" fill="#2a2a2a" stroke="#2a2a2a" stroke-width="0.12" >DMS114</text>
<text x="111.50" y="519.65" font-size="8.7" text-anchor="middle" font-weight="normal" fill="#2a2a2a" stroke="#2a2a2a" stroke-width="0.12" >0.58</text>
<text x="111.50" y="528.65" font-size="6.9" text-anchor="middle" font-weight="normal" fill="#2a2a2a" stroke="#2a2a2a" stroke-width="0.08" >(0.52–0.65)</text>
<text x="175.10" y="519.65" font-size="8.7" text-anchor="middle" font-weight="normal" fill="#2a2a2a" stroke="#2a2a2a" stroke-width="0.12" >8.19</text>
<text x="175.10" y="528.65" font-size="6.9" text-anchor="middle" font-weight="normal" fill="#2a2a2a" stroke="#2a2a2a" stroke-width="0.08" >(7.54–8.90)</text>
<text x="238.30" y="519.65" font-size="8.7" text-anchor="middle" font-weight="normal" fill="#2a2a2a" stroke="#2a2a2a" stroke-width="0.12" >12.10</text>
<text x="238.30" y="528.65" font-size="6.9" text-anchor="middle" font-weight="normal" fill="#2a2a2a" stroke="#2a2a2a" stroke-width="0.08" >(10.14–14.51)</text>
<text x="301.10" y="519.65" font-size="8.7" text-anchor="middle" font-weight="normal" fill="#2a2a2a" stroke="#2a2a2a" stroke-width="0.12" >26.06</text>
<text x="301.10" y="528.65" font-size="6.9" text-anchor="middle" font-weight="normal" fill="#2a2a2a" stroke="#2a2a2a" stroke-width="0.08" >(21.42–31.32)</text>
<text x="362.20" y="525.45" font-size="8.7" text-anchor="middle" font-weight="normal" fill="#2a2a2a" stroke="#2a2a2a" stroke-width="0.12" >14.12</text>
<text x="419.95" y="525.45" font-size="8.7" text-anchor="middle" font-weight="normal" fill="#2a2a2a" stroke="#2a2a2a" stroke-width="0.12" >20.86</text>
<text x="476.40" y="525.45" font-size="8.7" text-anchor="middle" font-weight="normal" fill="#2a2a2a" stroke="#2a2a2a" stroke-width="0.12" >44.93</text>
</svg>
</body></html>
